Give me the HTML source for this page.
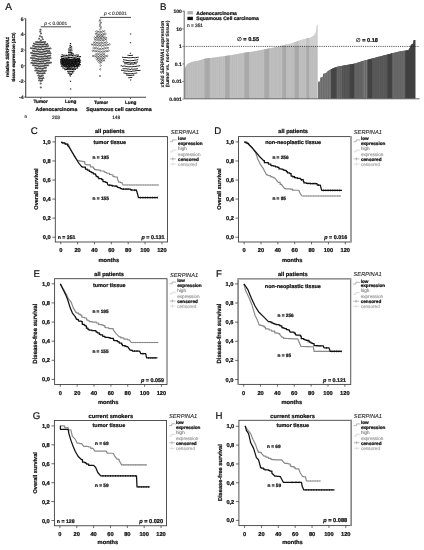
<!DOCTYPE html>
<html lang="en">
<head>
<meta charset="utf-8">
<title>SERPINA1 expression and survival</title>
<style>
html,body{margin:0;padding:0;background:#fff;}
body{width:424px;height:550px;overflow:hidden;font-family:"Liberation Sans", sans-serif;}
svg{display:block;}
svg text{font-family:"Liberation Sans", sans-serif;text-rendering:geometricPrecision;}
</style>
</head>
<body>
<svg width="424" height="550" viewBox="0 0 424 550">
<rect x="0" y="0" width="424" height="550" fill="#fff"/>
<g id="panelA">
<text x="5.30" y="10.33" font-size="10.0" fill="#111" stroke="#111" stroke-width="0.2">A</text>
<path d="M25.7,18.5V97.2H146" fill="none" stroke="#444" stroke-width="1.1"/>
<path d="M24.10,18.75H25.7" stroke="#444" stroke-width="0.8"/>
<text x="23.60" y="20.58" font-size="5.1" font-weight="bold" text-anchor="end" fill="#333" stroke="#333" stroke-width="0.24">6</text>
<path d="M24.10,34.42H25.7" stroke="#444" stroke-width="0.8"/>
<text x="23.60" y="36.25" font-size="5.1" font-weight="bold" text-anchor="end" fill="#333" stroke="#333" stroke-width="0.24">4</text>
<path d="M24.10,50.09H25.7" stroke="#444" stroke-width="0.8"/>
<text x="23.60" y="51.92" font-size="5.1" font-weight="bold" text-anchor="end" fill="#333" stroke="#333" stroke-width="0.24">2</text>
<path d="M24.10,65.76H25.7" stroke="#444" stroke-width="0.8"/>
<text x="23.60" y="67.59" font-size="5.1" font-weight="bold" text-anchor="end" fill="#333" stroke="#333" stroke-width="0.24">0</text>
<path d="M24.10,81.43H25.7" stroke="#444" stroke-width="0.8"/>
<text x="23.60" y="83.26" font-size="5.1" font-weight="bold" text-anchor="end" fill="#333" stroke="#333" stroke-width="0.24">-2</text>
<path d="M24.10,97.10H25.7" stroke="#444" stroke-width="0.8"/>
<text x="23.60" y="98.93" font-size="5.1" font-weight="bold" text-anchor="end" fill="#333" stroke="#333" stroke-width="0.24">-4</text>
<path d="M40.8,97.2v1.8" stroke="#444" stroke-width="0.8"/>
<path d="M70.5,97.2v1.8" stroke="#444" stroke-width="0.8"/>
<path d="M100.3,97.2v1.8" stroke="#444" stroke-width="0.8"/>
<path d="M130.5,97.2v1.8" stroke="#444" stroke-width="0.8"/>
<text x="7.00" y="58.65" font-size="4.6" font-weight="bold" text-anchor="middle" fill="#111" stroke="#111" stroke-width="0.24" transform="rotate(-90 7.00 57.00)">relative <tspan font-style="italic">SERPINA1</tspan></text>
<text x="13.60" y="58.58" font-size="4.4" font-weight="bold" text-anchor="middle" fill="#111" stroke="#111" stroke-width="0.24" transform="rotate(-90 13.60 57.00)">tissue expression (ΔCt)</text>
<text x="40.70" y="103.38" font-size="4.7" font-weight="bold" text-anchor="middle" fill="#111" stroke="#111" stroke-width="0.24">Tumor</text>
<text x="70.70" y="103.38" font-size="4.7" font-weight="bold" text-anchor="middle" fill="#111" stroke="#111" stroke-width="0.24">Lung</text>
<text x="101.00" y="103.58" font-size="4.7" font-weight="bold" text-anchor="middle" fill="#111" stroke="#111" stroke-width="0.24">Tumor</text>
<text x="130.70" y="103.58" font-size="4.7" font-weight="bold" text-anchor="middle" fill="#111" stroke="#111" stroke-width="0.24">Lung</text>
<text x="56.40" y="110.74" font-size="5.15" font-weight="bold" text-anchor="middle" fill="#111" stroke="#111" stroke-width="0.24">Adenocarcinoma</text>
<text x="119.00" y="111.00" font-size="5.3" font-weight="bold" text-anchor="middle" fill="#111" stroke="#111" stroke-width="0.24">Squamous cell carcinoma</text>
<text x="25.80" y="118.48" font-size="4.7" text-anchor="middle" fill="#222" stroke="#222" stroke-width="0.16">n</text>
<text x="56.00" y="118.52" font-size="4.8" text-anchor="middle" fill="#222" stroke="#222" stroke-width="0.16">203</text>
<text x="116.20" y="118.52" font-size="4.8" text-anchor="middle" fill="#222" stroke="#222" stroke-width="0.16">148</text>
<path d="M40.7,26.8H71" stroke="#333" stroke-width="0.9"/>
<text x="55.70" y="24.62" font-size="4.8" text-anchor="middle" fill="#333" stroke="#333" stroke-width="0.12"><tspan font-style="italic">p</tspan> &lt; 0.0001</text>
<path d="M99.9,17.4H131" stroke="#333" stroke-width="0.9"/>
<text x="115.40" y="15.22" font-size="4.8" text-anchor="middle" fill="#333" stroke="#333" stroke-width="0.12"><tspan font-style="italic">p</tspan> &lt; 0.0001</text>
<path d="M35.34,42.37l0.8,-1.25l0.8,1.25zM36.84,42.52l0.8,-1.25l0.8,1.25zM38.34,42.41l0.8,-1.25l0.8,1.25zM39.84,42.75l0.8,-1.25l0.8,1.25zM41.34,42.52l0.8,-1.25l0.8,1.25zM42.84,42.45l0.8,-1.25l0.8,1.25zM44.34,42.34l0.8,-1.25l0.8,1.25zM33.07,43.99l0.8,-1.25l0.8,1.25zM34.57,44.67l0.8,-1.25l0.8,1.25zM36.07,44.62l0.8,-1.25l0.8,1.25zM37.57,45.01l0.8,-1.25l0.8,1.25zM39.07,44.75l0.8,-1.25l0.8,1.25zM40.57,45.02l0.8,-1.25l0.8,1.25zM42.07,44.99l0.8,-1.25l0.8,1.25zM43.57,44.50l0.8,-1.25l0.8,1.25zM45.07,44.73l0.8,-1.25l0.8,1.25zM46.57,44.51l0.8,-1.25l0.8,1.25zM32.27,46.29l0.8,-1.25l0.8,1.25zM33.77,46.79l0.8,-1.25l0.8,1.25zM35.27,47.23l0.8,-1.25l0.8,1.25zM36.77,47.09l0.8,-1.25l0.8,1.25zM38.27,47.18l0.8,-1.25l0.8,1.25zM39.77,47.50l0.8,-1.25l0.8,1.25zM41.27,47.07l0.8,-1.25l0.8,1.25zM42.77,46.99l0.8,-1.25l0.8,1.25zM44.27,46.93l0.8,-1.25l0.8,1.25zM45.77,46.77l0.8,-1.25l0.8,1.25zM47.27,46.41l0.8,-1.25l0.8,1.25zM30.16,48.51l0.8,-1.25l0.8,1.25zM31.66,48.85l0.8,-1.25l0.8,1.25zM33.16,48.95l0.8,-1.25l0.8,1.25zM34.66,48.98l0.8,-1.25l0.8,1.25zM36.16,49.67l0.8,-1.25l0.8,1.25zM37.66,49.69l0.8,-1.25l0.8,1.25zM39.16,49.94l0.8,-1.25l0.8,1.25zM40.66,49.66l0.8,-1.25l0.8,1.25zM42.16,49.95l0.8,-1.25l0.8,1.25zM43.66,49.68l0.8,-1.25l0.8,1.25zM45.16,49.04l0.8,-1.25l0.8,1.25zM46.66,48.97l0.8,-1.25l0.8,1.25zM48.16,49.01l0.8,-1.25l0.8,1.25zM49.66,48.81l0.8,-1.25l0.8,1.25zM32.16,51.23l0.8,-1.25l0.8,1.25zM33.66,51.67l0.8,-1.25l0.8,1.25zM35.16,51.77l0.8,-1.25l0.8,1.25zM36.66,51.74l0.8,-1.25l0.8,1.25zM38.16,52.11l0.8,-1.25l0.8,1.25zM39.66,52.48l0.8,-1.25l0.8,1.25zM41.16,52.46l0.8,-1.25l0.8,1.25zM42.66,52.06l0.8,-1.25l0.8,1.25zM44.16,51.92l0.8,-1.25l0.8,1.25zM45.66,51.39l0.8,-1.25l0.8,1.25zM47.16,51.32l0.8,-1.25l0.8,1.25zM48.66,51.46l0.8,-1.25l0.8,1.25zM30.29,53.29l0.8,-1.25l0.8,1.25zM31.79,53.71l0.8,-1.25l0.8,1.25zM33.29,53.99l0.8,-1.25l0.8,1.25zM34.79,54.17l0.8,-1.25l0.8,1.25zM36.29,54.19l0.8,-1.25l0.8,1.25zM37.79,54.42l0.8,-1.25l0.8,1.25zM39.29,54.66l0.8,-1.25l0.8,1.25zM40.79,54.82l0.8,-1.25l0.8,1.25zM42.29,54.47l0.8,-1.25l0.8,1.25zM43.79,54.20l0.8,-1.25l0.8,1.25zM45.29,54.06l0.8,-1.25l0.8,1.25zM46.79,53.59l0.8,-1.25l0.8,1.25zM48.29,53.40l0.8,-1.25l0.8,1.25zM49.79,53.60l0.8,-1.25l0.8,1.25zM31.44,56.04l0.8,-1.25l0.8,1.25zM32.94,56.11l0.8,-1.25l0.8,1.25zM34.44,56.17l0.8,-1.25l0.8,1.25zM35.94,56.57l0.8,-1.25l0.8,1.25zM37.44,57.05l0.8,-1.25l0.8,1.25zM38.94,57.12l0.8,-1.25l0.8,1.25zM40.44,57.17l0.8,-1.25l0.8,1.25zM41.94,57.17l0.8,-1.25l0.8,1.25zM43.44,56.60l0.8,-1.25l0.8,1.25zM44.94,56.57l0.8,-1.25l0.8,1.25zM46.44,56.64l0.8,-1.25l0.8,1.25zM47.94,56.22l0.8,-1.25l0.8,1.25zM49.44,55.96l0.8,-1.25l0.8,1.25zM30.19,58.31l0.8,-1.25l0.8,1.25zM31.69,58.75l0.8,-1.25l0.8,1.25zM33.19,58.38l0.8,-1.25l0.8,1.25zM34.69,59.04l0.8,-1.25l0.8,1.25zM36.19,59.25l0.8,-1.25l0.8,1.25zM37.69,59.49l0.8,-1.25l0.8,1.25zM39.19,59.60l0.8,-1.25l0.8,1.25zM40.69,59.64l0.8,-1.25l0.8,1.25zM42.19,59.27l0.8,-1.25l0.8,1.25zM43.69,59.10l0.8,-1.25l0.8,1.25zM45.19,58.82l0.8,-1.25l0.8,1.25zM46.69,58.41l0.8,-1.25l0.8,1.25zM48.19,58.70l0.8,-1.25l0.8,1.25zM49.69,58.32l0.8,-1.25l0.8,1.25zM31.64,60.88l0.8,-1.25l0.8,1.25zM33.14,61.06l0.8,-1.25l0.8,1.25zM34.64,61.18l0.8,-1.25l0.8,1.25zM36.14,61.37l0.8,-1.25l0.8,1.25zM37.64,61.68l0.8,-1.25l0.8,1.25zM39.14,61.93l0.8,-1.25l0.8,1.25zM40.64,61.92l0.8,-1.25l0.8,1.25zM42.14,61.63l0.8,-1.25l0.8,1.25zM43.64,61.18l0.8,-1.25l0.8,1.25zM45.14,61.11l0.8,-1.25l0.8,1.25zM46.64,60.88l0.8,-1.25l0.8,1.25zM48.14,60.93l0.8,-1.25l0.8,1.25zM30.60,63.26l0.8,-1.25l0.8,1.25zM32.10,63.46l0.8,-1.25l0.8,1.25zM33.60,63.66l0.8,-1.25l0.8,1.25zM35.10,63.52l0.8,-1.25l0.8,1.25zM36.60,64.07l0.8,-1.25l0.8,1.25zM38.10,64.16l0.8,-1.25l0.8,1.25zM39.60,64.00l0.8,-1.25l0.8,1.25zM41.10,63.96l0.8,-1.25l0.8,1.25zM42.60,63.77l0.8,-1.25l0.8,1.25zM44.10,64.02l0.8,-1.25l0.8,1.25zM45.60,63.52l0.8,-1.25l0.8,1.25zM47.10,63.24l0.8,-1.25l0.8,1.25zM48.60,63.35l0.8,-1.25l0.8,1.25zM50.10,62.99l0.8,-1.25l0.8,1.25zM32.30,65.57l0.8,-1.25l0.8,1.25zM33.80,65.99l0.8,-1.25l0.8,1.25zM35.30,65.97l0.8,-1.25l0.8,1.25zM36.80,66.22l0.8,-1.25l0.8,1.25zM38.30,66.68l0.8,-1.25l0.8,1.25zM39.80,66.72l0.8,-1.25l0.8,1.25zM41.30,66.45l0.8,-1.25l0.8,1.25zM42.80,66.34l0.8,-1.25l0.8,1.25zM44.30,65.88l0.8,-1.25l0.8,1.25zM45.80,65.90l0.8,-1.25l0.8,1.25zM47.30,65.73l0.8,-1.25l0.8,1.25zM34.63,68.23l0.8,-1.25l0.8,1.25zM36.13,68.90l0.8,-1.25l0.8,1.25zM37.63,68.86l0.8,-1.25l0.8,1.25zM39.13,68.88l0.8,-1.25l0.8,1.25zM40.63,69.12l0.8,-1.25l0.8,1.25zM42.13,69.05l0.8,-1.25l0.8,1.25zM43.63,68.37l0.8,-1.25l0.8,1.25zM45.13,68.18l0.8,-1.25l0.8,1.25zM34.60,71.00l0.8,-1.25l0.8,1.25zM36.10,70.86l0.8,-1.25l0.8,1.25zM37.60,71.38l0.8,-1.25l0.8,1.25zM39.10,71.56l0.8,-1.25l0.8,1.25zM40.60,71.48l0.8,-1.25l0.8,1.25zM42.10,71.09l0.8,-1.25l0.8,1.25zM43.60,71.35l0.8,-1.25l0.8,1.25zM45.10,71.05l0.8,-1.25l0.8,1.25zM36.36,73.30l0.8,-1.25l0.8,1.25zM37.86,73.75l0.8,-1.25l0.8,1.25zM39.36,73.79l0.8,-1.25l0.8,1.25zM40.86,73.90l0.8,-1.25l0.8,1.25zM42.36,73.55l0.8,-1.25l0.8,1.25zM43.86,73.54l0.8,-1.25l0.8,1.25zM37.54,75.94l0.8,-1.25l0.8,1.25zM39.04,76.53l0.8,-1.25l0.8,1.25zM40.54,76.48l0.8,-1.25l0.8,1.25zM42.04,75.94l0.8,-1.25l0.8,1.25zM38.10,78.34l0.8,-1.25l0.8,1.25zM39.60,78.92l0.8,-1.25l0.8,1.25zM41.10,78.80l0.8,-1.25l0.8,1.25zM42.60,78.41l0.8,-1.25l0.8,1.25zM38.43,80.66l0.8,-1.25l0.8,1.25zM39.93,81.38l0.8,-1.25l0.8,1.25zM41.43,80.68l0.8,-1.25l0.8,1.25zM39.70,30.05l0.8,-1.25l0.8,1.25zM39.50,32.05l0.8,-1.25l0.8,1.25zM40.10,33.95l0.8,-1.25l0.8,1.25zM39.20,36.55l0.8,-1.25l0.8,1.25zM41.10,37.35l0.8,-1.25l0.8,1.25zM38.30,39.15l0.8,-1.25l0.8,1.25zM41.90,39.55l0.8,-1.25l0.8,1.25zM40.00,40.95l0.8,-1.25l0.8,1.25zM39.90,83.95l0.8,-1.25l0.8,1.25zM40.00,87.85l0.8,-1.25l0.8,1.25z" fill="none" stroke="#000" stroke-width="0.56" stroke-linejoin="miter"/>
<path d="M69.43,46.80h1.32v1.12h-1.32zM70.88,46.35h1.32v1.12h-1.32zM68.10,48.48h1.32v1.12h-1.32zM69.55,48.56h1.32v1.12h-1.32zM71.00,48.39h1.32v1.12h-1.32zM68.26,50.16h1.32v1.12h-1.32zM69.71,50.29h1.32v1.12h-1.32zM71.16,50.15h1.32v1.12h-1.32zM68.15,51.87h1.32v1.12h-1.32zM69.60,51.99h1.32v1.12h-1.32zM71.05,52.02h1.32v1.12h-1.32zM68.01,53.67h1.32v1.12h-1.32zM69.46,53.60h1.32v1.12h-1.32zM70.91,53.55h1.32v1.12h-1.32zM72.36,53.33h1.32v1.12h-1.32zM61.54,54.29h1.32v1.12h-1.32zM62.99,54.64h1.32v1.12h-1.32zM64.44,54.69h1.32v1.12h-1.32zM65.89,54.85h1.32v1.12h-1.32zM67.34,55.24h1.32v1.12h-1.32zM68.79,55.19h1.32v1.12h-1.32zM70.24,55.21h1.32v1.12h-1.32zM71.69,54.91h1.32v1.12h-1.32zM73.14,54.68h1.32v1.12h-1.32zM74.59,54.70h1.32v1.12h-1.32zM76.04,54.47h1.32v1.12h-1.32zM77.49,54.53h1.32v1.12h-1.32zM60.76,56.08h1.32v1.12h-1.32zM62.21,55.96h1.32v1.12h-1.32zM63.66,56.45h1.32v1.12h-1.32zM65.11,56.53h1.32v1.12h-1.32zM66.56,56.63h1.32v1.12h-1.32zM68.01,56.85h1.32v1.12h-1.32zM69.46,56.91h1.32v1.12h-1.32zM70.91,56.92h1.32v1.12h-1.32zM72.36,56.57h1.32v1.12h-1.32zM73.81,56.75h1.32v1.12h-1.32zM75.26,56.61h1.32v1.12h-1.32zM76.71,56.08h1.32v1.12h-1.32zM78.16,56.25h1.32v1.12h-1.32zM79.61,56.10h1.32v1.12h-1.32zM61.11,57.67h1.32v1.12h-1.32zM62.56,57.78h1.32v1.12h-1.32zM64.01,58.13h1.32v1.12h-1.32zM65.46,58.05h1.32v1.12h-1.32zM66.91,58.34h1.32v1.12h-1.32zM68.36,58.24h1.32v1.12h-1.32zM69.81,58.63h1.32v1.12h-1.32zM71.26,58.51h1.32v1.12h-1.32zM72.71,58.16h1.32v1.12h-1.32zM74.16,58.08h1.32v1.12h-1.32zM75.61,58.13h1.32v1.12h-1.32zM77.06,57.90h1.32v1.12h-1.32zM78.51,57.65h1.32v1.12h-1.32zM60.22,59.10h1.32v1.12h-1.32zM61.67,59.42h1.32v1.12h-1.32zM63.12,59.29h1.32v1.12h-1.32zM64.57,59.79h1.32v1.12h-1.32zM66.02,59.60h1.32v1.12h-1.32zM67.47,60.05h1.32v1.12h-1.32zM68.92,59.88h1.32v1.12h-1.32zM70.37,60.20h1.32v1.12h-1.32zM71.82,59.95h1.32v1.12h-1.32zM73.27,59.72h1.32v1.12h-1.32zM74.72,59.59h1.32v1.12h-1.32zM76.17,59.53h1.32v1.12h-1.32zM77.62,59.37h1.32v1.12h-1.32zM79.07,59.10h1.32v1.12h-1.32zM60.21,60.80h1.32v1.12h-1.32zM61.66,61.14h1.32v1.12h-1.32zM63.11,61.11h1.32v1.12h-1.32zM64.56,60.97h1.32v1.12h-1.32zM66.01,61.47h1.32v1.12h-1.32zM67.46,61.56h1.32v1.12h-1.32zM68.91,61.78h1.32v1.12h-1.32zM70.36,61.42h1.32v1.12h-1.32zM71.81,61.57h1.32v1.12h-1.32zM73.26,61.09h1.32v1.12h-1.32zM74.71,61.26h1.32v1.12h-1.32zM76.16,60.94h1.32v1.12h-1.32zM77.61,60.79h1.32v1.12h-1.32zM79.06,60.98h1.32v1.12h-1.32zM60.14,62.40h1.32v1.12h-1.32zM61.59,62.70h1.32v1.12h-1.32zM63.04,62.53h1.32v1.12h-1.32zM64.49,62.64h1.32v1.12h-1.32zM65.94,63.10h1.32v1.12h-1.32zM67.39,63.01h1.32v1.12h-1.32zM68.84,63.28h1.32v1.12h-1.32zM70.29,62.94h1.32v1.12h-1.32zM71.74,62.98h1.32v1.12h-1.32zM73.19,62.75h1.32v1.12h-1.32zM74.64,62.87h1.32v1.12h-1.32zM76.09,62.44h1.32v1.12h-1.32zM77.54,62.75h1.32v1.12h-1.32zM78.99,62.15h1.32v1.12h-1.32zM60.58,63.75h1.32v1.12h-1.32zM62.03,64.00h1.32v1.12h-1.32zM63.48,64.41h1.32v1.12h-1.32zM64.93,64.21h1.32v1.12h-1.32zM66.38,64.36h1.32v1.12h-1.32zM67.83,64.74h1.32v1.12h-1.32zM69.28,64.72h1.32v1.12h-1.32zM70.73,64.55h1.32v1.12h-1.32zM72.18,64.89h1.32v1.12h-1.32zM73.63,64.34h1.32v1.12h-1.32zM75.08,64.15h1.32v1.12h-1.32zM76.53,64.17h1.32v1.12h-1.32zM77.98,64.18h1.32v1.12h-1.32zM79.43,64.11h1.32v1.12h-1.32zM60.87,65.58h1.32v1.12h-1.32zM62.32,65.55h1.32v1.12h-1.32zM63.77,65.89h1.32v1.12h-1.32zM65.22,66.18h1.32v1.12h-1.32zM66.67,66.30h1.32v1.12h-1.32zM68.12,66.51h1.32v1.12h-1.32zM69.57,66.57h1.32v1.12h-1.32zM71.02,66.49h1.32v1.12h-1.32zM72.47,66.28h1.32v1.12h-1.32zM73.92,66.03h1.32v1.12h-1.32zM75.37,65.78h1.32v1.12h-1.32zM76.82,65.87h1.32v1.12h-1.32zM78.27,65.57h1.32v1.12h-1.32zM62.31,67.36h1.32v1.12h-1.32zM63.76,67.71h1.32v1.12h-1.32zM65.21,67.46h1.32v1.12h-1.32zM66.66,67.82h1.32v1.12h-1.32zM68.11,67.86h1.32v1.12h-1.32zM69.56,68.05h1.32v1.12h-1.32zM71.01,67.73h1.32v1.12h-1.32zM72.46,68.01h1.32v1.12h-1.32zM73.91,67.53h1.32v1.12h-1.32zM75.36,67.57h1.32v1.12h-1.32zM76.81,67.35h1.32v1.12h-1.32zM64.43,69.01h1.32v1.12h-1.32zM65.88,68.93h1.32v1.12h-1.32zM67.33,69.02h1.32v1.12h-1.32zM68.78,69.14h1.32v1.12h-1.32zM70.23,69.21h1.32v1.12h-1.32zM71.68,69.04h1.32v1.12h-1.32zM73.13,69.18h1.32v1.12h-1.32zM74.58,68.99h1.32v1.12h-1.32zM67.28,71.00h1.32v1.12h-1.32zM68.73,71.16h1.32v1.12h-1.32zM70.18,70.91h1.32v1.12h-1.32zM71.63,70.88h1.32v1.12h-1.32zM73.08,70.65h1.32v1.12h-1.32zM67.73,72.51h1.32v1.12h-1.32zM69.18,72.72h1.32v1.12h-1.32zM70.63,72.68h1.32v1.12h-1.32zM72.08,72.32h1.32v1.12h-1.32zM69.06,74.19h1.32v1.12h-1.32zM70.51,73.93h1.32v1.12h-1.32zM69.84,43.04h1.32v1.12h-1.32zM69.54,45.04h1.32v1.12h-1.32zM69.84,80.64h1.32v1.12h-1.32zM69.94,88.44h1.32v1.12h-1.32zM69.74,75.44h1.32v1.12h-1.32zM61.46,58.28h1.32v1.12h-1.32zM62.91,58.35h1.32v1.12h-1.32zM64.36,58.97h1.32v1.12h-1.32zM65.81,58.69h1.32v1.12h-1.32zM67.26,58.79h1.32v1.12h-1.32zM68.71,59.19h1.32v1.12h-1.32zM70.16,59.16h1.32v1.12h-1.32zM71.61,59.30h1.32v1.12h-1.32zM73.06,58.84h1.32v1.12h-1.32zM74.51,59.08h1.32v1.12h-1.32zM75.96,58.63h1.32v1.12h-1.32zM77.41,58.64h1.32v1.12h-1.32zM78.86,58.67h1.32v1.12h-1.32zM60.54,60.20h1.32v1.12h-1.32zM61.99,60.23h1.32v1.12h-1.32zM63.44,60.03h1.32v1.12h-1.32zM64.89,60.57h1.32v1.12h-1.32zM66.34,60.56h1.32v1.12h-1.32zM67.79,60.55h1.32v1.12h-1.32zM69.24,60.62h1.32v1.12h-1.32zM70.69,60.95h1.32v1.12h-1.32zM72.14,60.69h1.32v1.12h-1.32zM73.59,60.73h1.32v1.12h-1.32zM75.04,60.52h1.32v1.12h-1.32zM76.49,60.48h1.32v1.12h-1.32zM77.94,60.16h1.32v1.12h-1.32zM79.39,60.09h1.32v1.12h-1.32zM60.49,61.47h1.32v1.12h-1.32zM61.94,61.95h1.32v1.12h-1.32zM63.39,61.76h1.32v1.12h-1.32zM64.84,62.12h1.32v1.12h-1.32zM66.29,62.34h1.32v1.12h-1.32zM67.74,62.32h1.32v1.12h-1.32zM69.19,62.20h1.32v1.12h-1.32zM70.64,62.54h1.32v1.12h-1.32zM72.09,62.33h1.32v1.12h-1.32zM73.54,61.96h1.32v1.12h-1.32zM74.99,61.76h1.32v1.12h-1.32zM76.44,61.87h1.32v1.12h-1.32zM77.89,61.49h1.32v1.12h-1.32zM79.34,61.80h1.32v1.12h-1.32zM61.14,63.27h1.32v1.12h-1.32zM62.59,63.34h1.32v1.12h-1.32zM64.04,63.60h1.32v1.12h-1.32zM65.49,63.86h1.32v1.12h-1.32zM66.94,63.68h1.32v1.12h-1.32zM68.39,63.85h1.32v1.12h-1.32zM69.84,64.08h1.32v1.12h-1.32zM71.29,63.81h1.32v1.12h-1.32zM72.74,63.83h1.32v1.12h-1.32zM74.19,63.67h1.32v1.12h-1.32zM75.64,63.48h1.32v1.12h-1.32zM77.09,63.47h1.32v1.12h-1.32zM78.54,63.27h1.32v1.12h-1.32zM61.58,65.17h1.32v1.12h-1.32zM63.03,64.98h1.32v1.12h-1.32zM64.48,65.15h1.32v1.12h-1.32zM65.93,65.27h1.32v1.12h-1.32zM67.38,65.66h1.32v1.12h-1.32zM68.83,65.80h1.32v1.12h-1.32zM70.28,65.58h1.32v1.12h-1.32zM71.73,65.39h1.32v1.12h-1.32zM73.18,65.11h1.32v1.12h-1.32zM74.63,65.38h1.32v1.12h-1.32zM76.08,64.89h1.32v1.12h-1.32zM77.53,64.95h1.32v1.12h-1.32z" fill="#0c0c0c"/>
<path d="M95.47,31.50l0.85,-0.8l0.85,0.8l-0.85,0.8zM97.07,31.64l0.85,-0.8l0.85,0.8l-0.85,0.8zM98.67,31.94l0.85,-0.8l0.85,0.8l-0.85,0.8zM100.27,31.95l0.85,-0.8l0.85,0.8l-0.85,0.8zM101.87,31.51l0.85,-0.8l0.85,0.8l-0.85,0.8zM103.47,31.29l0.85,-0.8l0.85,0.8l-0.85,0.8zM95.09,33.78l0.85,-0.8l0.85,0.8l-0.85,0.8zM96.69,33.98l0.85,-0.8l0.85,0.8l-0.85,0.8zM98.29,34.49l0.85,-0.8l0.85,0.8l-0.85,0.8zM99.89,34.49l0.85,-0.8l0.85,0.8l-0.85,0.8zM101.49,34.43l0.85,-0.8l0.85,0.8l-0.85,0.8zM103.09,34.07l0.85,-0.8l0.85,0.8l-0.85,0.8zM104.69,33.93l0.85,-0.8l0.85,0.8l-0.85,0.8zM96.21,36.04l0.85,-0.8l0.85,0.8l-0.85,0.8zM97.81,36.34l0.85,-0.8l0.85,0.8l-0.85,0.8zM99.41,36.41l0.85,-0.8l0.85,0.8l-0.85,0.8zM101.01,36.29l0.85,-0.8l0.85,0.8l-0.85,0.8zM102.61,36.05l0.85,-0.8l0.85,0.8l-0.85,0.8zM93.74,37.58l0.85,-0.8l0.85,0.8l-0.85,0.8zM95.34,37.72l0.85,-0.8l0.85,0.8l-0.85,0.8zM96.94,37.81l0.85,-0.8l0.85,0.8l-0.85,0.8zM98.54,37.91l0.85,-0.8l0.85,0.8l-0.85,0.8zM100.14,38.24l0.85,-0.8l0.85,0.8l-0.85,0.8zM101.74,37.88l0.85,-0.8l0.85,0.8l-0.85,0.8zM103.34,37.77l0.85,-0.8l0.85,0.8l-0.85,0.8zM104.94,37.62l0.85,-0.8l0.85,0.8l-0.85,0.8zM94.20,39.74l0.85,-0.8l0.85,0.8l-0.85,0.8zM95.80,39.74l0.85,-0.8l0.85,0.8l-0.85,0.8zM97.40,40.11l0.85,-0.8l0.85,0.8l-0.85,0.8zM99.00,40.17l0.85,-0.8l0.85,0.8l-0.85,0.8zM100.60,40.37l0.85,-0.8l0.85,0.8l-0.85,0.8zM102.20,40.14l0.85,-0.8l0.85,0.8l-0.85,0.8zM103.80,39.62l0.85,-0.8l0.85,0.8l-0.85,0.8zM105.40,39.43l0.85,-0.8l0.85,0.8l-0.85,0.8zM93.05,42.55l0.85,-0.8l0.85,0.8l-0.85,0.8zM94.65,42.55l0.85,-0.8l0.85,0.8l-0.85,0.8zM96.25,42.83l0.85,-0.8l0.85,0.8l-0.85,0.8zM97.85,42.91l0.85,-0.8l0.85,0.8l-0.85,0.8zM99.45,43.20l0.85,-0.8l0.85,0.8l-0.85,0.8zM101.05,42.95l0.85,-0.8l0.85,0.8l-0.85,0.8zM102.65,42.72l0.85,-0.8l0.85,0.8l-0.85,0.8zM104.25,42.61l0.85,-0.8l0.85,0.8l-0.85,0.8zM105.85,42.40l0.85,-0.8l0.85,0.8l-0.85,0.8zM91.13,44.53l0.85,-0.8l0.85,0.8l-0.85,0.8zM92.73,44.84l0.85,-0.8l0.85,0.8l-0.85,0.8zM94.33,45.01l0.85,-0.8l0.85,0.8l-0.85,0.8zM95.93,45.28l0.85,-0.8l0.85,0.8l-0.85,0.8zM97.53,45.36l0.85,-0.8l0.85,0.8l-0.85,0.8zM99.13,45.36l0.85,-0.8l0.85,0.8l-0.85,0.8zM100.73,45.64l0.85,-0.8l0.85,0.8l-0.85,0.8zM102.33,45.47l0.85,-0.8l0.85,0.8l-0.85,0.8zM103.93,45.24l0.85,-0.8l0.85,0.8l-0.85,0.8zM105.53,44.90l0.85,-0.8l0.85,0.8l-0.85,0.8zM107.13,44.75l0.85,-0.8l0.85,0.8l-0.85,0.8zM108.73,44.34l0.85,-0.8l0.85,0.8l-0.85,0.8zM92.68,47.99l0.85,-0.8l0.85,0.8l-0.85,0.8zM94.28,48.09l0.85,-0.8l0.85,0.8l-0.85,0.8zM95.88,48.21l0.85,-0.8l0.85,0.8l-0.85,0.8zM97.48,48.73l0.85,-0.8l0.85,0.8l-0.85,0.8zM99.08,48.99l0.85,-0.8l0.85,0.8l-0.85,0.8zM100.68,48.63l0.85,-0.8l0.85,0.8l-0.85,0.8zM102.28,48.71l0.85,-0.8l0.85,0.8l-0.85,0.8zM103.88,48.34l0.85,-0.8l0.85,0.8l-0.85,0.8zM105.48,48.03l0.85,-0.8l0.85,0.8l-0.85,0.8zM107.08,47.88l0.85,-0.8l0.85,0.8l-0.85,0.8zM91.84,50.91l0.85,-0.8l0.85,0.8l-0.85,0.8zM93.44,50.79l0.85,-0.8l0.85,0.8l-0.85,0.8zM95.04,51.22l0.85,-0.8l0.85,0.8l-0.85,0.8zM96.64,51.20l0.85,-0.8l0.85,0.8l-0.85,0.8zM98.24,51.68l0.85,-0.8l0.85,0.8l-0.85,0.8zM99.84,51.73l0.85,-0.8l0.85,0.8l-0.85,0.8zM101.44,51.74l0.85,-0.8l0.85,0.8l-0.85,0.8zM103.04,51.58l0.85,-0.8l0.85,0.8l-0.85,0.8zM104.64,51.18l0.85,-0.8l0.85,0.8l-0.85,0.8zM106.24,51.17l0.85,-0.8l0.85,0.8l-0.85,0.8zM107.84,50.68l0.85,-0.8l0.85,0.8l-0.85,0.8zM95.35,54.22l0.85,-0.8l0.85,0.8l-0.85,0.8zM96.95,54.20l0.85,-0.8l0.85,0.8l-0.85,0.8zM98.55,54.47l0.85,-0.8l0.85,0.8l-0.85,0.8zM100.15,54.56l0.85,-0.8l0.85,0.8l-0.85,0.8zM101.75,54.43l0.85,-0.8l0.85,0.8l-0.85,0.8zM103.35,54.04l0.85,-0.8l0.85,0.8l-0.85,0.8zM92.13,56.01l0.85,-0.8l0.85,0.8l-0.85,0.8zM93.73,56.00l0.85,-0.8l0.85,0.8l-0.85,0.8zM95.33,56.46l0.85,-0.8l0.85,0.8l-0.85,0.8zM96.93,56.65l0.85,-0.8l0.85,0.8l-0.85,0.8zM98.53,56.65l0.85,-0.8l0.85,0.8l-0.85,0.8zM100.13,56.68l0.85,-0.8l0.85,0.8l-0.85,0.8zM101.73,56.50l0.85,-0.8l0.85,0.8l-0.85,0.8zM103.33,56.34l0.85,-0.8l0.85,0.8l-0.85,0.8zM104.93,56.11l0.85,-0.8l0.85,0.8l-0.85,0.8zM106.53,55.89l0.85,-0.8l0.85,0.8l-0.85,0.8zM95.73,58.56l0.85,-0.8l0.85,0.8l-0.85,0.8zM97.33,58.59l0.85,-0.8l0.85,0.8l-0.85,0.8zM98.93,58.77l0.85,-0.8l0.85,0.8l-0.85,0.8zM100.53,58.88l0.85,-0.8l0.85,0.8l-0.85,0.8zM102.13,58.48l0.85,-0.8l0.85,0.8l-0.85,0.8zM103.73,58.30l0.85,-0.8l0.85,0.8l-0.85,0.8zM96.78,60.49l0.85,-0.8l0.85,0.8l-0.85,0.8zM98.38,60.71l0.85,-0.8l0.85,0.8l-0.85,0.8zM99.98,60.70l0.85,-0.8l0.85,0.8l-0.85,0.8zM101.58,60.66l0.85,-0.8l0.85,0.8l-0.85,0.8zM103.18,60.52l0.85,-0.8l0.85,0.8l-0.85,0.8zM98.51,62.54l0.85,-0.8l0.85,0.8l-0.85,0.8zM100.11,62.55l0.85,-0.8l0.85,0.8l-0.85,0.8zM99.55,19.80l0.85,-0.8l0.85,0.8l-0.85,0.8zM98.75,21.20l0.85,-0.8l0.85,0.8l-0.85,0.8zM100.15,22.60l0.85,-0.8l0.85,0.8l-0.85,0.8zM99.35,24.20l0.85,-0.8l0.85,0.8l-0.85,0.8zM98.95,26.00l0.85,-0.8l0.85,0.8l-0.85,0.8zM100.35,27.40l0.85,-0.8l0.85,0.8l-0.85,0.8zM99.45,29.20l0.85,-0.8l0.85,0.8l-0.85,0.8zM99.75,65.60l0.85,-0.8l0.85,0.8l-0.85,0.8zM99.45,69.30l0.85,-0.8l0.85,0.8l-0.85,0.8zM99.15,76.00l0.85,-0.8l0.85,0.8l-0.85,0.8z" fill="none" stroke="#1a1a1a" stroke-width="0.52"/>
<path d="M127.46,54.81h1.32v1.0h-1.32zM128.86,55.08h1.32v1.0h-1.32zM130.26,54.98h1.32v1.0h-1.32zM131.66,54.80h1.32v1.0h-1.32zM121.97,56.82h1.32v1.0h-1.32zM123.37,56.93h1.32v1.0h-1.32zM124.77,57.07h1.32v1.0h-1.32zM126.17,57.00h1.32v1.0h-1.32zM127.57,57.28h1.32v1.0h-1.32zM128.97,57.33h1.32v1.0h-1.32zM130.37,57.29h1.32v1.0h-1.32zM131.77,57.11h1.32v1.0h-1.32zM133.17,57.00h1.32v1.0h-1.32zM134.57,57.13h1.32v1.0h-1.32zM135.97,56.94h1.32v1.0h-1.32zM137.37,56.78h1.32v1.0h-1.32zM122.95,59.31h1.32v1.0h-1.32zM124.35,59.51h1.32v1.0h-1.32zM125.75,59.79h1.32v1.0h-1.32zM127.15,59.98h1.32v1.0h-1.32zM128.55,60.19h1.32v1.0h-1.32zM129.95,60.35h1.32v1.0h-1.32zM131.35,59.88h1.32v1.0h-1.32zM132.75,59.93h1.32v1.0h-1.32zM134.15,59.81h1.32v1.0h-1.32zM135.55,59.59h1.32v1.0h-1.32zM136.95,59.30h1.32v1.0h-1.32zM122.72,61.37h1.32v1.0h-1.32zM124.12,61.86h1.32v1.0h-1.32zM125.52,61.98h1.32v1.0h-1.32zM126.92,62.01h1.32v1.0h-1.32zM128.32,62.07h1.32v1.0h-1.32zM129.72,62.46h1.32v1.0h-1.32zM131.12,62.17h1.32v1.0h-1.32zM132.52,62.14h1.32v1.0h-1.32zM133.92,61.98h1.32v1.0h-1.32zM135.32,61.69h1.32v1.0h-1.32zM136.72,61.50h1.32v1.0h-1.32zM124.21,63.26h1.32v1.0h-1.32zM125.61,63.30h1.32v1.0h-1.32zM127.01,63.51h1.32v1.0h-1.32zM128.41,63.87h1.32v1.0h-1.32zM129.81,63.72h1.32v1.0h-1.32zM131.21,63.56h1.32v1.0h-1.32zM132.61,63.64h1.32v1.0h-1.32zM134.01,63.35h1.32v1.0h-1.32zM135.41,63.30h1.32v1.0h-1.32zM120.62,65.34h1.32v1.0h-1.32zM122.02,65.75h1.32v1.0h-1.32zM123.42,65.59h1.32v1.0h-1.32zM124.82,65.83h1.32v1.0h-1.32zM126.22,65.90h1.32v1.0h-1.32zM127.62,66.22h1.32v1.0h-1.32zM129.02,66.23h1.32v1.0h-1.32zM130.42,66.27h1.32v1.0h-1.32zM131.82,66.27h1.32v1.0h-1.32zM133.22,65.94h1.32v1.0h-1.32zM134.62,65.88h1.32v1.0h-1.32zM136.02,65.87h1.32v1.0h-1.32zM137.42,65.39h1.32v1.0h-1.32zM138.82,65.22h1.32v1.0h-1.32zM122.55,68.24h1.32v1.0h-1.32zM123.95,68.33h1.32v1.0h-1.32zM125.35,68.33h1.32v1.0h-1.32zM126.75,68.52h1.32v1.0h-1.32zM128.15,68.62h1.32v1.0h-1.32zM129.55,68.88h1.32v1.0h-1.32zM130.95,68.56h1.32v1.0h-1.32zM132.35,68.67h1.32v1.0h-1.32zM133.75,68.60h1.32v1.0h-1.32zM135.15,68.47h1.32v1.0h-1.32zM136.55,68.22h1.32v1.0h-1.32zM120.96,69.71h1.32v1.0h-1.32zM122.36,69.97h1.32v1.0h-1.32zM123.76,70.39h1.32v1.0h-1.32zM125.16,70.47h1.32v1.0h-1.32zM126.56,70.48h1.32v1.0h-1.32zM127.96,70.85h1.32v1.0h-1.32zM129.36,70.87h1.32v1.0h-1.32zM130.76,70.95h1.32v1.0h-1.32zM132.16,70.59h1.32v1.0h-1.32zM133.56,70.39h1.32v1.0h-1.32zM134.96,70.34h1.32v1.0h-1.32zM136.36,70.06h1.32v1.0h-1.32zM137.76,70.01h1.32v1.0h-1.32zM139.16,70.08h1.32v1.0h-1.32zM123.32,72.51h1.32v1.0h-1.32zM124.72,72.68h1.32v1.0h-1.32zM126.12,72.88h1.32v1.0h-1.32zM127.52,73.28h1.32v1.0h-1.32zM128.92,73.27h1.32v1.0h-1.32zM130.32,73.24h1.32v1.0h-1.32zM131.72,73.01h1.32v1.0h-1.32zM133.12,73.21h1.32v1.0h-1.32zM134.52,72.83h1.32v1.0h-1.32zM135.92,72.59h1.32v1.0h-1.32zM125.93,74.54h1.32v1.0h-1.32zM127.33,74.74h1.32v1.0h-1.32zM128.73,75.09h1.32v1.0h-1.32zM130.13,74.88h1.32v1.0h-1.32zM131.53,74.69h1.32v1.0h-1.32zM132.93,74.71h1.32v1.0h-1.32zM128.16,77.15h1.32v1.0h-1.32zM129.56,76.95h1.32v1.0h-1.32zM130.96,76.96h1.32v1.0h-1.32zM129.96,79.60h1.32v1.0h-1.32zM129.74,52.80h1.32v1.0h-1.32zM129.94,33.50h1.32v1.0h-1.32zM129.84,42.30h1.32v1.0h-1.32z" fill="#222"/>
</g>
<g id="panelB">
<text x="160.00" y="9.92" font-size="9.7" fill="#111" stroke="#111" stroke-width="0.2">B</text>
<path d="M184.6,98.8L184.6,71.0L185.2,67.5L186.6,64.9L188.5,63.2L192.3,61.7L198.9,60.6L202.0,59.6L204.5,58.7L210.0,57.9L217.7,57.0L229.0,55.5L242.3,53.0L250.0,51.9L260.0,50.3L270.0,48.3L278.5,46.4L282.0,45.5L290.4,43.7L297.0,41.6L300.8,39.9L304.5,39.0L310.2,37.8L313.0,36.2L314.9,34.2L316.2,31.0L316.9,25.0L317.7,25.0L317.7,98.8Z" fill="#c1c1c1"/>
<path d="M184.6,98.8L184.6,71.0L185.1,68.1L185.6,66.8L185.6,98.8Z" fill="#b4b4b4" fill-opacity="0.45"/>
<path d="M186.6,98.8L186.6,64.9L187.2,64.4L187.8,63.8L187.8,98.8Z" fill="#b4b4b4" fill-opacity="0.45"/>
<path d="M189.0,98.8L189.0,63.0L189.5,62.8L190.0,62.6L190.0,98.8Z" fill="#b4b4b4" fill-opacity="0.45"/>
<path d="M191.0,98.8L191.0,62.2L191.5,62.0L192.0,61.8L192.0,98.8Z" fill="#b4b4b4" fill-opacity="0.45"/>
<path d="M193.0,98.8L193.0,61.6L193.6,61.5L194.2,61.4L194.2,98.8Z" fill="#b4b4b4" fill-opacity="0.45"/>
<path d="M195.4,98.8L195.4,61.2L196.0,61.1L196.6,61.0L196.6,98.8Z" fill="#b4b4b4" fill-opacity="0.45"/>
<path d="M197.8,98.8L197.8,60.8L198.2,60.7L198.6,60.6L198.6,98.8Z" fill="#b4b4b4" fill-opacity="0.45"/>
<path d="M199.4,98.8L199.4,60.4L199.8,60.3L200.2,60.2L200.2,98.8Z" fill="#b4b4b4" fill-opacity="0.45"/>
<path d="M201.0,98.8L201.0,59.9L201.6,59.7L202.2,59.5L202.2,98.8Z" fill="#b4b4b4" fill-opacity="0.45"/>
<path d="M203.4,98.8L203.4,59.1L203.9,58.9L204.4,58.7L204.4,98.8Z" fill="#b4b4b4" fill-opacity="0.45"/>
<path d="M205.4,98.8L205.4,58.6L206.0,58.5L206.6,58.4L206.6,98.8Z" fill="#b4b4b4" fill-opacity="0.45"/>
<path d="M207.8,98.8L207.8,58.2L208.4,58.1L209.0,58.0L209.0,98.8Z" fill="#b4b4b4" fill-opacity="0.45"/>
<path d="M210.2,98.8L210.2,57.9L210.6,57.8L211.0,57.8L211.0,98.8Z" fill="#b4b4b4" fill-opacity="0.45"/>
<path d="M211.8,98.8L211.8,57.7L212.2,57.6L212.6,57.6L212.6,98.8Z" fill="#b4b4b4" fill-opacity="0.45"/>
<path d="M213.4,98.8L213.4,57.5L213.9,57.4L214.4,57.4L214.4,98.8Z" fill="#b4b4b4" fill-opacity="0.45"/>
<path d="M215.4,98.8L215.4,57.3L215.9,57.2L216.4,57.2L216.4,98.8Z" fill="#b4b4b4" fill-opacity="0.45"/>
<path d="M217.4,98.8L217.4,57.0L217.8,57.0L218.2,56.9L218.2,98.8Z" fill="#b4b4b4" fill-opacity="0.45"/>
<path d="M219.0,98.8L219.0,56.8L219.4,56.8L219.8,56.7L219.8,98.8Z" fill="#b4b4b4" fill-opacity="0.45"/>
<path d="M220.6,98.8L220.6,56.6L221.2,56.5L221.8,56.5L221.8,98.8Z" fill="#b4b4b4" fill-opacity="0.45"/>
<path d="M223.0,98.8L223.0,56.3L223.6,56.2L224.2,56.1L224.2,98.8Z" fill="#b4b4b4" fill-opacity="0.45"/>
<path d="M225.4,98.8L225.4,56.0L226.0,55.9L226.6,55.8L226.6,98.8Z" fill="#b4b4b4" fill-opacity="0.45"/>
<path d="M227.8,98.8L227.8,55.7L228.2,55.6L228.6,55.6L228.6,98.8Z" fill="#b4b4b4" fill-opacity="0.45"/>
<path d="M229.4,98.8L229.4,55.4L230.0,55.3L230.6,55.2L230.6,98.8Z" fill="#b4b4b4" fill-opacity="0.45"/>
<path d="M231.8,98.8L231.8,55.0L232.3,54.9L232.8,54.8L232.8,98.8Z" fill="#b4b4b4" fill-opacity="0.45"/>
<path d="M233.8,98.8L233.8,54.6L234.3,54.5L234.8,54.4L234.8,98.8Z" fill="#b4b4b4" fill-opacity="0.45"/>
<path d="M235.8,98.8L235.8,54.2L236.4,54.1L237.0,54.0L237.0,98.8Z" fill="#b4b4b4" fill-opacity="0.45"/>
<path d="M238.2,98.8L238.2,53.8L238.8,53.7L239.4,53.5L239.4,98.8Z" fill="#b4b4b4" fill-opacity="0.45"/>
<path d="M240.6,98.8L240.6,53.3L241.2,53.2L241.8,53.1L241.8,98.8Z" fill="#b4b4b4" fill-opacity="0.45"/>
<path d="M243.0,98.8L243.0,52.9L243.6,52.8L244.2,52.7L244.2,98.8Z" fill="#b4b4b4" fill-opacity="0.45"/>
<path d="M245.4,98.8L245.4,52.6L245.8,52.5L246.2,52.4L246.2,98.8Z" fill="#b4b4b4" fill-opacity="0.45"/>
<path d="M247.0,98.8L247.0,52.3L247.6,52.2L248.2,52.2L248.2,98.8Z" fill="#b4b4b4" fill-opacity="0.45"/>
<path d="M249.4,98.8L249.4,52.0L249.8,51.9L250.2,51.9L250.2,98.8Z" fill="#b4b4b4" fill-opacity="0.45"/>
<path d="M251.0,98.8L251.0,51.7L251.6,51.6L252.2,51.5L252.2,98.8Z" fill="#b4b4b4" fill-opacity="0.45"/>
<path d="M253.4,98.8L253.4,51.4L253.8,51.3L254.2,51.2L254.2,98.8Z" fill="#b4b4b4" fill-opacity="0.45"/>
<path d="M255.0,98.8L255.0,51.1L255.4,51.0L255.8,51.0L255.8,98.8Z" fill="#b4b4b4" fill-opacity="0.45"/>
<path d="M256.6,98.8L256.6,50.8L257.0,50.8L257.4,50.7L257.4,98.8Z" fill="#b4b4b4" fill-opacity="0.45"/>
<path d="M258.2,98.8L258.2,50.6L258.6,50.5L259.0,50.5L259.0,98.8Z" fill="#b4b4b4" fill-opacity="0.45"/>
<path d="M259.8,98.8L259.8,50.3L260.2,50.3L260.6,50.2L260.6,98.8Z" fill="#b4b4b4" fill-opacity="0.45"/>
<path d="M261.4,98.8L261.4,50.0L262.0,49.9L262.6,49.8L262.6,98.8Z" fill="#b4b4b4" fill-opacity="0.45"/>
<path d="M263.8,98.8L263.8,49.5L264.2,49.5L264.6,49.4L264.6,98.8Z" fill="#b4b4b4" fill-opacity="0.45"/>
<path d="M265.4,98.8L265.4,49.2L265.9,49.1L266.4,49.0L266.4,98.8Z" fill="#b4b4b4" fill-opacity="0.45"/>
<path d="M267.4,98.8L267.4,48.8L267.9,48.7L268.4,48.6L268.4,98.8Z" fill="#b4b4b4" fill-opacity="0.45"/>
<path d="M269.4,98.8L269.4,48.4L269.9,48.3L270.4,48.2L270.4,98.8Z" fill="#b4b4b4" fill-opacity="0.45"/>
<path d="M271.4,98.8L271.4,48.0L272.0,47.9L272.6,47.7L272.6,98.8Z" fill="#b4b4b4" fill-opacity="0.45"/>
<path d="M273.8,98.8L273.8,47.5L274.2,47.4L274.6,47.3L274.6,98.8Z" fill="#b4b4b4" fill-opacity="0.45"/>
<path d="M275.4,98.8L275.4,47.1L276.0,47.0L276.6,46.8L276.6,98.8Z" fill="#b4b4b4" fill-opacity="0.45"/>
<path d="M277.8,98.8L277.8,46.6L278.2,46.5L278.6,46.4L278.6,98.8Z" fill="#b4b4b4" fill-opacity="0.45"/>
<path d="M279.4,98.8L279.4,46.2L280.0,46.0L280.6,45.9L280.6,98.8Z" fill="#b4b4b4" fill-opacity="0.45"/>
<path d="M281.8,98.8L281.8,45.6L282.3,45.4L282.8,45.3L282.8,98.8Z" fill="#b4b4b4" fill-opacity="0.45"/>
<path d="M283.8,98.8L283.8,45.1L284.3,45.0L284.8,44.9L284.8,98.8Z" fill="#b4b4b4" fill-opacity="0.45"/>
<path d="M285.8,98.8L285.8,44.7L286.2,44.6L286.6,44.5L286.6,98.8Z" fill="#b4b4b4" fill-opacity="0.45"/>
<path d="M287.4,98.8L287.4,44.3L288.0,44.2L288.6,44.1L288.6,98.8Z" fill="#b4b4b4" fill-opacity="0.45"/>
<path d="M289.8,98.8L289.8,43.8L290.2,43.7L290.6,43.6L290.6,98.8Z" fill="#b4b4b4" fill-opacity="0.45"/>
<path d="M291.4,98.8L291.4,43.4L291.9,43.2L292.4,43.1L292.4,98.8Z" fill="#b4b4b4" fill-opacity="0.45"/>
<path d="M293.4,98.8L293.4,42.7L294.0,42.6L294.6,42.4L294.6,98.8Z" fill="#b4b4b4" fill-opacity="0.45"/>
<path d="M295.8,98.8L295.8,42.0L296.3,41.8L296.8,41.7L296.8,98.8Z" fill="#b4b4b4" fill-opacity="0.45"/>
<path d="M297.8,98.8L297.8,41.2L298.3,41.0L298.8,40.8L298.8,98.8Z" fill="#b4b4b4" fill-opacity="0.45"/>
<path d="M299.8,98.8L299.8,40.3L300.4,40.1L301.0,39.9L301.0,98.8Z" fill="#b4b4b4" fill-opacity="0.45"/>
<path d="M302.2,98.8L302.2,39.6L302.6,39.5L303.0,39.4L303.0,98.8Z" fill="#b4b4b4" fill-opacity="0.45"/>
<path d="M303.8,98.8L303.8,39.2L304.4,39.0L305.0,38.9L305.0,98.8Z" fill="#b4b4b4" fill-opacity="0.45"/>
<path d="M306.2,98.8L306.2,38.6L306.7,38.5L307.2,38.4L307.2,98.8Z" fill="#b4b4b4" fill-opacity="0.45"/>
<path d="M308.2,98.8L308.2,38.2L308.7,38.1L309.2,38.0L309.2,98.8Z" fill="#b4b4b4" fill-opacity="0.45"/>
<path d="M310.2,98.8L310.2,37.8L310.6,37.6L311.0,37.3L311.0,98.8Z" fill="#b4b4b4" fill-opacity="0.45"/>
<path d="M311.8,98.8L311.8,36.9L312.4,36.5L313.0,36.2L313.0,98.8Z" fill="#b4b4b4" fill-opacity="0.45"/>
<path d="M314.2,98.8L314.2,34.9L314.7,34.4L315.2,33.5L315.2,98.8Z" fill="#b4b4b4" fill-opacity="0.45"/>
<path d="M316.2,98.8L316.2,31.0L316.6,27.6L317.0,25.0L317.0,98.8Z" fill="#b4b4b4" fill-opacity="0.45"/>
<path d="M184.6,98.8L184.6,71.0L185.2,67.5L185.8,66.4L185.8,98.8Z" fill="#a8a8a8" fill-opacity="0.95"/>
<path d="M204.6,98.8L204.6,58.7L205.3,58.6L206.1,58.5L206.8,58.4L207.6,58.3L208.3,58.1L209.1,58.0L209.8,57.9L209.8,98.8Z" fill="#a8a8a8" fill-opacity="0.95"/>
<path d="M225.0,98.8L225.0,56.0L225.8,55.9L226.5,55.8L227.3,55.7L228.1,55.6L228.8,55.5L229.6,55.4L229.6,98.8Z" fill="#a8a8a8" fill-opacity="0.95"/>
<path d="M244.4,98.8L244.4,52.7L245.2,52.6L246.0,52.5L246.8,52.4L247.5,52.3L248.3,52.1L249.1,52.0L249.1,98.8Z" fill="#a8a8a8" fill-opacity="0.95"/>
<path d="M264.3,98.8L264.3,49.4L265.0,49.3L265.7,49.2L266.4,49.0L267.1,48.9L267.8,48.7L268.5,48.6L269.2,48.5L269.2,98.8Z" fill="#a8a8a8" fill-opacity="0.95"/>
<path d="M282.3,98.8L282.3,45.4L283.0,45.3L283.8,45.1L284.5,45.0L285.3,44.8L286.0,44.6L286.0,98.8Z" fill="#a8a8a8" fill-opacity="0.95"/>
<path d="M294.6,98.8L294.6,42.4L295.3,42.1L296.0,41.9L296.7,41.7L297.4,41.4L298.1,41.1L298.8,40.8L298.8,98.8Z" fill="#a8a8a8" fill-opacity="0.95"/>
<path d="M306.4,98.8L306.4,38.6L307.1,38.5L307.8,38.3L308.5,38.2L309.2,38.0L309.2,98.8Z" fill="#a8a8a8" fill-opacity="0.95"/>
<path d="M278.5,46.4L282.0,45.5L290.4,43.7L297.0,41.6L300.8,39.9L304.5,39.0L310.2,37.8L313.0,36.2L314.9,34.2L316.2,31.0L316.9,25.0L317.7,25.0L317.7,46.4Z" fill="#fff" fill-opacity="0.28"/>
<path d="M318.3,98.8L318.3,81.8L320.3,81.8L320.4,77.6L323.0,77.6L323.1,73.9L326.0,73.3L328.0,71.0L333.0,68.2L338.0,66.6L344.0,65.4L350.0,64.4L355.0,63.5L362.9,60.9L372.0,58.6L381.7,56.0L391.0,53.6L400.6,51.2L406.0,50.5L408.6,50.0L409.8,48.0L411.0,44.8L413.3,43.4L413.6,40.0L415.3,40.0L415.3,98.8Z" fill="#5a5a5a"/>
<path d="M318.3,98.8L318.3,81.8L319.1,81.8L319.9,81.8L320.7,77.6L321.5,77.6L322.3,77.6L323.1,75.3L323.9,73.7L324.6,73.6L325.4,73.4L326.2,73.0L327.0,72.1L327.8,71.2L328.6,70.7L329.4,70.2L330.2,69.8L331.0,69.3L331.0,98.8Z" fill="#787878" fill-opacity="1.0"/>
<path d="M331.0,98.8L331.0,69.3L331.7,68.9L332.4,68.5L333.1,68.2L333.8,67.9L334.5,67.7L335.2,67.5L335.9,67.3L336.6,67.0L336.6,98.8Z" fill="#474747" fill-opacity="1.0"/>
<path d="M336.6,98.8L336.6,67.0L337.3,66.8L338.0,66.6L338.7,66.5L339.5,66.3L340.2,66.2L340.9,66.0L341.6,65.9L342.3,65.7L342.3,98.8Z" fill="#686868" fill-opacity="1.0"/>
<path d="M342.3,98.8L342.3,65.7L343.0,65.6L343.8,65.4L344.5,65.3L345.3,65.2L346.0,65.1L346.7,64.9L347.5,64.8L348.2,64.7L349.0,64.6L349.7,64.5L349.7,98.8Z" fill="#585858" fill-opacity="1.0"/>
<path d="M349.7,98.8L349.7,64.5L350.5,64.3L351.3,64.2L352.0,64.0L352.8,63.9L353.6,63.7L354.4,63.6L354.4,98.8Z" fill="#444444" fill-opacity="1.0"/>
<path d="M354.4,98.8L354.4,63.6L355.2,63.4L355.9,63.2L356.7,62.9L357.5,62.7L358.3,62.4L359.0,62.2L359.8,61.9L360.6,61.7L361.4,61.4L362.1,61.2L362.9,60.9L362.9,98.8Z" fill="#686868" fill-opacity="1.0"/>
<path d="M362.9,98.8L362.9,60.9L363.7,60.7L364.5,60.5L365.2,60.3L366.0,60.1L366.8,59.9L367.6,59.7L367.6,98.8Z" fill="#787878" fill-opacity="1.0"/>
<path d="M367.6,98.8L367.6,59.7L368.4,59.5L369.2,59.3L370.0,59.1L370.7,58.9L371.5,58.7L372.3,58.5L372.3,98.8Z" fill="#444444" fill-opacity="1.0"/>
<path d="M372.3,98.8L372.3,58.5L373.1,58.3L373.9,58.1L374.7,57.9L375.5,57.7L376.3,57.5L377.1,57.2L377.9,57.0L378.7,56.8L379.5,56.6L380.2,56.4L381.0,56.2L381.8,56.0L382.6,55.8L383.4,55.6L384.2,55.3L385.0,55.1L385.8,54.9L386.6,54.7L387.4,54.5L387.4,98.8Z" fill="#5c5c5c" fill-opacity="1.0"/>
<path d="M387.4,98.8L387.4,54.5L388.2,54.3L389.0,54.1L389.8,53.9L390.5,53.7L391.3,53.5L392.1,53.3L392.1,98.8Z" fill="#444444" fill-opacity="1.0"/>
<path d="M392.1,98.8L392.1,53.3L392.9,53.1L393.7,52.9L394.4,52.7L395.2,52.5L396.0,52.4L396.8,52.2L397.5,52.0L398.3,51.8L399.1,51.6L399.9,51.4L400.6,51.2L401.4,51.1L402.2,51.0L403.0,50.9L403.7,50.8L404.5,50.7L405.3,50.6L405.3,98.8Z" fill="#6c6c6c" fill-opacity="1.0"/>
<path d="M405.3,98.8L405.3,50.6L406.1,50.5L406.8,50.3L407.6,50.2L408.4,50.0L409.1,49.1L409.9,47.7L410.7,45.6L411.5,44.5L412.2,44.1L413.0,43.6L413.8,40.0L414.5,40.0L415.3,40.0L415.3,98.8Z" fill="#424242" fill-opacity="1.0"/>
<path d="M318.3,98.8L318.3,81.8L318.9,81.8L319.5,81.8L319.5,98.8Z" fill="#3a3a3a" fill-opacity="0.22"/>
<path d="M320.9,98.8L320.9,77.6L321.4,77.6L321.9,77.6L321.9,98.8Z" fill="#3a3a3a" fill-opacity="0.22"/>
<path d="M323.1,98.8L323.1,73.9L323.7,73.8L324.3,73.7L324.3,98.8Z" fill="#3a3a3a" fill-opacity="0.22"/>
<path d="M325.7,98.8L325.7,73.4L326.2,73.1L326.7,72.5L326.7,98.8Z" fill="#3a3a3a" fill-opacity="0.22"/>
<path d="M327.9,98.8L327.9,71.1L328.5,70.7L329.1,70.4L329.1,98.8Z" fill="#3a3a3a" fill-opacity="0.22"/>
<path d="M330.5,98.8L330.5,69.6L331.1,69.3L331.7,68.9L331.7,98.8Z" fill="#3a3a3a" fill-opacity="0.22"/>
<path d="M333.1,98.8L333.1,68.2L333.7,68.0L334.3,67.8L334.3,98.8Z" fill="#3a3a3a" fill-opacity="0.22"/>
<path d="M335.7,98.8L335.7,67.3L336.3,67.1L336.9,67.0L336.9,98.8Z" fill="#3a3a3a" fill-opacity="0.22"/>
<path d="M338.3,98.8L338.3,66.5L338.7,66.5L339.1,66.4L339.1,98.8Z" fill="#3a3a3a" fill-opacity="0.22"/>
<path d="M340.1,98.8L340.1,66.2L340.6,66.1L341.1,66.0L341.1,98.8Z" fill="#3a3a3a" fill-opacity="0.22"/>
<path d="M342.3,98.8L342.3,65.7L342.7,65.7L343.1,65.6L343.1,98.8Z" fill="#3a3a3a" fill-opacity="0.22"/>
<path d="M344.1,98.8L344.1,65.4L344.7,65.3L345.3,65.2L345.3,98.8Z" fill="#3a3a3a" fill-opacity="0.22"/>
<path d="M346.7,98.8L346.7,64.9L347.1,64.9L347.5,64.8L347.5,98.8Z" fill="#3a3a3a" fill-opacity="0.22"/>
<path d="M348.5,98.8L348.5,64.6L348.9,64.6L349.3,64.5L349.3,98.8Z" fill="#3a3a3a" fill-opacity="0.22"/>
<path d="M350.3,98.8L350.3,64.3L350.7,64.3L351.1,64.2L351.1,98.8Z" fill="#3a3a3a" fill-opacity="0.22"/>
<path d="M352.1,98.8L352.1,64.0L352.6,63.9L353.1,63.8L353.1,98.8Z" fill="#3a3a3a" fill-opacity="0.22"/>
<path d="M354.3,98.8L354.3,63.6L354.8,63.5L355.3,63.4L355.3,98.8Z" fill="#3a3a3a" fill-opacity="0.22"/>
<path d="M356.5,98.8L356.5,63.0L356.9,62.9L357.3,62.7L357.3,98.8Z" fill="#3a3a3a" fill-opacity="0.22"/>
<path d="M358.3,98.8L358.3,62.4L358.8,62.3L359.3,62.1L359.3,98.8Z" fill="#3a3a3a" fill-opacity="0.22"/>
<path d="M360.5,98.8L360.5,61.7L361.1,61.5L361.7,61.3L361.7,98.8Z" fill="#3a3a3a" fill-opacity="0.22"/>
<path d="M363.1,98.8L363.1,60.8L363.5,60.7L363.9,60.6L363.9,98.8Z" fill="#3a3a3a" fill-opacity="0.22"/>
<path d="M364.9,98.8L364.9,60.4L365.5,60.2L366.1,60.1L366.1,98.8Z" fill="#3a3a3a" fill-opacity="0.22"/>
<path d="M367.5,98.8L367.5,59.7L367.9,59.6L368.3,59.5L368.3,98.8Z" fill="#3a3a3a" fill-opacity="0.22"/>
<path d="M369.3,98.8L369.3,59.3L369.7,59.2L370.1,59.1L370.1,98.8Z" fill="#3a3a3a" fill-opacity="0.22"/>
<path d="M371.1,98.8L371.1,58.8L371.7,58.7L372.3,58.5L372.3,98.8Z" fill="#3a3a3a" fill-opacity="0.22"/>
<path d="M373.7,98.8L373.7,58.1L374.1,58.0L374.5,57.9L374.5,98.8Z" fill="#3a3a3a" fill-opacity="0.22"/>
<path d="M375.5,98.8L375.5,57.7L376.0,57.5L376.5,57.4L376.5,98.8Z" fill="#3a3a3a" fill-opacity="0.22"/>
<path d="M377.7,98.8L377.7,57.1L378.2,56.9L378.7,56.8L378.7,98.8Z" fill="#3a3a3a" fill-opacity="0.22"/>
<path d="M379.9,98.8L379.9,56.5L380.3,56.4L380.7,56.3L380.7,98.8Z" fill="#3a3a3a" fill-opacity="0.22"/>
<path d="M381.7,98.8L381.7,56.0L382.2,55.9L382.7,55.7L382.7,98.8Z" fill="#3a3a3a" fill-opacity="0.22"/>
<path d="M383.9,98.8L383.9,55.4L384.3,55.3L384.7,55.2L384.7,98.8Z" fill="#3a3a3a" fill-opacity="0.22"/>
<path d="M385.7,98.8L385.7,55.0L386.1,54.9L386.5,54.8L386.5,98.8Z" fill="#3a3a3a" fill-opacity="0.22"/>
<path d="M387.5,98.8L387.5,54.5L387.9,54.4L388.3,54.3L388.3,98.8Z" fill="#3a3a3a" fill-opacity="0.22"/>
<path d="M389.3,98.8L389.3,54.0L389.9,53.9L390.5,53.7L390.5,98.8Z" fill="#3a3a3a" fill-opacity="0.22"/>
<path d="M391.9,98.8L391.9,53.4L392.5,53.2L393.1,53.1L393.1,98.8Z" fill="#3a3a3a" fill-opacity="0.22"/>
<path d="M394.5,98.8L394.5,52.7L395.0,52.6L395.5,52.5L395.5,98.8Z" fill="#3a3a3a" fill-opacity="0.22"/>
<path d="M396.7,98.8L396.7,52.2L397.1,52.1L397.5,52.0L397.5,98.8Z" fill="#3a3a3a" fill-opacity="0.22"/>
<path d="M398.5,98.8L398.5,51.7L398.9,51.6L399.3,51.5L399.3,98.8Z" fill="#3a3a3a" fill-opacity="0.22"/>
<path d="M400.3,98.8L400.3,51.3L400.7,51.2L401.1,51.1L401.1,98.8Z" fill="#3a3a3a" fill-opacity="0.22"/>
<path d="M402.1,98.8L402.1,51.0L402.5,51.0L402.9,50.9L402.9,98.8Z" fill="#3a3a3a" fill-opacity="0.22"/>
<path d="M403.9,98.8L403.9,50.8L404.3,50.7L404.7,50.7L404.7,98.8Z" fill="#3a3a3a" fill-opacity="0.22"/>
<path d="M405.7,98.8L405.7,50.5L406.1,50.5L406.5,50.4L406.5,98.8Z" fill="#3a3a3a" fill-opacity="0.22"/>
<path d="M407.5,98.8L407.5,50.2L407.9,50.1L408.3,50.1L408.3,98.8Z" fill="#3a3a3a" fill-opacity="0.22"/>
<path d="M409.3,98.8L409.3,48.8L409.7,48.2L410.1,47.2L410.1,98.8Z" fill="#3a3a3a" fill-opacity="0.22"/>
<path d="M411.1,98.8L411.1,44.7L411.6,44.4L412.1,44.1L412.1,98.8Z" fill="#3a3a3a" fill-opacity="0.22"/>
<path d="M413.3,98.8L413.3,43.4L413.8,40.0L414.3,40.0L414.3,98.8Z" fill="#3a3a3a" fill-opacity="0.22"/>
<path d="M184.2,46.4H419.6" stroke="#222" stroke-width="0.8" stroke-dasharray="1.1,1.08"/>
<path d="M184.2,10.6V98.8H419.6" fill="none" stroke="#6a6a6a" stroke-width="1.0"/>
<path d="M182.30,11.30H184.2" stroke="#6a6a6a" stroke-width="0.8"/>
<text x="181.80" y="13.09" font-size="5.0" font-weight="bold" text-anchor="end" fill="#111" stroke="#111" stroke-width="0.15">100</text>
<path d="M182.30,28.85H184.2" stroke="#6a6a6a" stroke-width="0.8"/>
<text x="181.80" y="30.64" font-size="5.0" font-weight="bold" text-anchor="end" fill="#111" stroke="#111" stroke-width="0.15">10</text>
<path d="M182.30,46.40H184.2" stroke="#6a6a6a" stroke-width="0.8"/>
<text x="181.80" y="48.19" font-size="5.0" font-weight="bold" text-anchor="end" fill="#111" stroke="#111" stroke-width="0.15">1</text>
<path d="M182.30,63.95H184.2" stroke="#6a6a6a" stroke-width="0.8"/>
<text x="181.80" y="65.74" font-size="5.0" font-weight="bold" text-anchor="end" fill="#111" stroke="#111" stroke-width="0.15">0.1</text>
<path d="M182.30,81.50H184.2" stroke="#6a6a6a" stroke-width="0.8"/>
<text x="181.80" y="83.29" font-size="5.0" font-weight="bold" text-anchor="end" fill="#111" stroke="#111" stroke-width="0.15">0.01</text>
<path d="M182.30,99.05H184.2" stroke="#6a6a6a" stroke-width="0.8"/>
<text x="181.80" y="100.84" font-size="5.0" font-weight="bold" text-anchor="end" fill="#111" stroke="#111" stroke-width="0.15">0.001</text>
<text x="162.40" y="55.81" font-size="5.05" font-weight="bold" text-anchor="middle" fill="#111" stroke="#111" stroke-width="0.1" transform="rotate(-90 162.40 54.00)">xfold <tspan font-style="italic">SERPINA1</tspan> expression</text>
<text x="167.00" y="55.75" font-size="4.9" font-weight="bold" text-anchor="middle" fill="#111" stroke="#111" stroke-width="0.1" transform="rotate(-90 167.00 54.00)">(tumor vs. non-tumor tissue)</text>
<rect x="187.4" y="11.1" width="5.5" height="3.3" fill="#adadad"/>
<text x="196.30" y="14.54" font-size="5.0" font-weight="bold" fill="#111" stroke="#111" stroke-width="0.24">Adenocarcinoma</text>
<rect x="187.4" y="16.8" width="5.5" height="3.3" fill="#111"/>
<text x="196.30" y="20.24" font-size="5.0" font-weight="bold" fill="#111" stroke="#111" stroke-width="0.24">Squamous Cell carcinoma</text>
<text x="186.90" y="26.52" font-size="4.8" fill="#222" stroke="#222" stroke-width="0.2">n = 351</text>
<text x="248.00" y="41.40" font-size="5.6" font-weight="bold" text-anchor="middle" fill="#111" stroke="#111" stroke-width="0.24"><tspan font-weight="normal" stroke-width="0.16">∅</tspan> = 0.55</text>
<text x="366.90" y="41.90" font-size="5.6" font-weight="bold" text-anchor="middle" fill="#111" stroke="#111" stroke-width="0.24"><tspan font-weight="normal" stroke-width="0.16">∅</tspan> = 0.18</text>
</g>
<g id="panelC">
<text x="30.80" y="133.87" font-size="9.7" fill="#111" stroke="#111" stroke-width="0.2">C</text>
<text x="109.80" y="133.04" font-size="5.7" font-weight="bold" text-anchor="middle" fill="#111" stroke="#111" stroke-width="0.24">all patients</text>
<text x="109.80" y="144.45" font-size="5.45" font-weight="bold" text-anchor="middle" fill="#111" stroke="#111" stroke-width="0.24">tumor tissue</text>
<path d="M61.00,142.30H61.93V143.03H64.16V143.79H65.60V144.00H68.44V145.24H69.10V146.80L72.00,151.80L76.20,158.60L77.60,160.50H79.71V161.08H81.20V161.20H82.22V161.57H84.70V164.00H85.69V164.49H86.26V164.56H87.31V164.97H90.40V166.80H92.21V167.12H93.62V168.60H94.60V169.70H96.10V169.84H98.38V169.99H99.08V170.22H100.30V171.00H104.14V171.62H104.31V171.93H104.94V172.33H105.90V172.50H106.56V173.27H109.60V174.50H111.69V174.74H112.89V176.31H114.20V176.80H115.42V176.99H117.30V178.40L118.80,182.20H120.58V182.60H121.90V182.70L123.10,185.00L159.00,185.00" fill="none" stroke="#8a8a8a" stroke-width="1.2" stroke-linejoin="round"/>
<path d="M125.0,184.2v1.5M127.3,184.2v1.5M129.6,184.2v1.5M131.9,184.2v1.5M134.2,184.2v1.5M136.5,184.2v1.5M138.8,184.2v1.5M141.1,184.2v1.5M143.4,184.2v1.5M145.7,184.2v1.5M148.0,184.2v1.5M150.3,184.2v1.5M152.6,184.2v1.5M154.9,184.2v1.5M157.2,184.2v1.5" stroke="#8a8a8a" stroke-width="0.5"/>
<path d="M61.00,142.30H62.50V142.90H64.83V143.57H65.60V144.20H67.50V145.30L69.10,147.00L72.00,152.00L74.20,155.80L76.20,159.00L79.00,163.30L81.90,166.80H82.70V167.23H85.40V169.00H87.23V170.07H89.21V171.37H90.40V171.80H91.69V172.73H93.20V173.80H95.43V174.80H96.00V176.00H96.87V176.73H98.11V177.84H98.86V178.73H101.70V179.60H102.98V181.50H104.50V181.80H105.74V182.43H107.30V183.80L108.00,185.00H111.05V185.48H111.60V185.60H111.99V185.95H114.20V186.00H117.06V186.89H117.23V187.10H118.00V187.60H119.50V187.77H120.54V188.58H121.90V189.10L128.00,189.10H130.05V189.23H130.50V189.80H132.34V190.00H133.40V190.20L136.40,190.20L137.50,193.70L138.40,197.50L157.90,197.50" fill="none" stroke="#111" stroke-width="1.25" stroke-linejoin="round"/>
<path d="M109.5,184.4v1.8M112.5,184.8v1.8M116.0,185.2v1.8M123.5,188.2v1.8M126.0,188.2v1.8M128.0,188.2v1.8M131.5,189.1v1.8M134.5,189.3v1.8M136.0,189.3v1.8M140.5,196.6v1.8M142.9,196.6v1.8M145.3,196.6v1.8M147.7,196.6v1.8M150.1,196.6v1.8M152.5,196.6v1.8M154.9,196.6v1.8M157.3,196.6v1.8" stroke="#111" stroke-width="0.8"/>
<rect x="55.3" y="136.6" width="112.20" height="105.40" fill="none" stroke="#404040" stroke-width="0.9"/>
<path d="M52.30,141.90H55.3" stroke="#3a3a3a" stroke-width="0.75"/>
<text x="50.70" y="143.94" font-size="5.7" font-weight="bold" text-anchor="end" fill="#111" stroke="#111" stroke-width="0.24">1,0</text>
<path d="M52.30,160.96H55.3" stroke="#3a3a3a" stroke-width="0.75"/>
<text x="50.70" y="163.00" font-size="5.7" font-weight="bold" text-anchor="end" fill="#111" stroke="#111" stroke-width="0.24">0,8</text>
<path d="M52.30,180.02H55.3" stroke="#3a3a3a" stroke-width="0.75"/>
<text x="50.70" y="182.06" font-size="5.7" font-weight="bold" text-anchor="end" fill="#111" stroke="#111" stroke-width="0.24">0,6</text>
<path d="M52.30,199.08H55.3" stroke="#3a3a3a" stroke-width="0.75"/>
<text x="50.70" y="201.12" font-size="5.7" font-weight="bold" text-anchor="end" fill="#111" stroke="#111" stroke-width="0.24">0,4</text>
<path d="M52.30,218.14H55.3" stroke="#3a3a3a" stroke-width="0.75"/>
<text x="50.70" y="220.18" font-size="5.7" font-weight="bold" text-anchor="end" fill="#111" stroke="#111" stroke-width="0.24">0,2</text>
<path d="M52.30,237.20H55.3" stroke="#3a3a3a" stroke-width="0.75"/>
<text x="50.70" y="239.24" font-size="5.7" font-weight="bold" text-anchor="end" fill="#111" stroke="#111" stroke-width="0.24">0,0</text>
<path d="M60.75,242.0v2.3" stroke="#3a3a3a" stroke-width="0.75"/>
<text x="60.75" y="252.34" font-size="5.7" font-weight="bold" text-anchor="middle" fill="#111" stroke="#111" stroke-width="0.24">0</text>
<path d="M77.61,242.0v2.3" stroke="#3a3a3a" stroke-width="0.75"/>
<text x="77.61" y="252.34" font-size="5.7" font-weight="bold" text-anchor="middle" fill="#111" stroke="#111" stroke-width="0.24">20</text>
<path d="M94.47,242.0v2.3" stroke="#3a3a3a" stroke-width="0.75"/>
<text x="94.47" y="252.34" font-size="5.7" font-weight="bold" text-anchor="middle" fill="#111" stroke="#111" stroke-width="0.24">40</text>
<path d="M111.33,242.0v2.3" stroke="#3a3a3a" stroke-width="0.75"/>
<text x="111.33" y="252.34" font-size="5.7" font-weight="bold" text-anchor="middle" fill="#111" stroke="#111" stroke-width="0.24">60</text>
<path d="M128.19,242.0v2.3" stroke="#3a3a3a" stroke-width="0.75"/>
<text x="128.19" y="252.34" font-size="5.7" font-weight="bold" text-anchor="middle" fill="#111" stroke="#111" stroke-width="0.24">80</text>
<path d="M145.05,242.0v2.3" stroke="#3a3a3a" stroke-width="0.75"/>
<text x="145.05" y="252.34" font-size="5.7" font-weight="bold" text-anchor="middle" fill="#111" stroke="#111" stroke-width="0.24">100</text>
<path d="M161.91,242.0v2.3" stroke="#3a3a3a" stroke-width="0.75"/>
<text x="161.91" y="252.34" font-size="5.7" font-weight="bold" text-anchor="middle" fill="#111" stroke="#111" stroke-width="0.24">120</text>
<text x="108.80" y="261.54" font-size="5.7" font-weight="bold" text-anchor="middle" fill="#111" stroke="#111" stroke-width="0.24">months</text>
<text x="36.10" y="190.99" font-size="5.55" font-weight="bold" text-anchor="middle" fill="#111" stroke="#111" stroke-width="0.24" transform="rotate(-90 36.10 189.00)">Overall survival</text>
<text x="92.60" y="159.40" font-size="4.75" font-weight="bold" fill="#111" stroke="#111" stroke-width="0.24">n = 195</text>
<text x="92.60" y="200.30" font-size="4.75" font-weight="bold" fill="#111" stroke="#111" stroke-width="0.24">n = 155</text>
<text x="57.70" y="239.46" font-size="5.2" font-weight="bold" fill="#111" stroke="#111" stroke-width="0.24">n = 351</text>
<text x="164.40" y="239.33" font-size="5.4" font-weight="bold" text-anchor="end" fill="#111" stroke="#111" stroke-width="0.24"><tspan font-style="italic">p</tspan> = 0.131</text>
<text x="170.80" y="133.94" font-size="5.7" font-style="italic" fill="#2a2a2a" stroke="#2a2a2a" stroke-width="0.1">SERPINA1</text>
<text x="178.10" y="140.36" font-size="4.65" font-weight="bold" fill="#111" stroke="#111" stroke-width="0.24">low</text>
<text x="178.10" y="145.06" font-size="4.65" font-weight="bold" fill="#111" stroke="#111" stroke-width="0.24">expression</text>
<text x="178.10" y="149.76" font-size="4.65" fill="#8c8c8c" stroke="#8c8c8c" stroke-width="0.18">high</text>
<text x="178.10" y="155.66" font-size="4.65" fill="#9c9c9c" stroke="#9c9c9c" stroke-width="0.18">expression</text>
<text x="178.10" y="160.96" font-size="4.65" font-weight="bold" fill="#111" stroke="#111" stroke-width="0.24">censored</text>
<text x="178.10" y="166.06" font-size="4.65" fill="#a8a8a8" stroke="#a8a8a8" stroke-width="0.18">censored</text>
<path d="M170.0,141.7h2.7v-1.8h2.9l1.0,0.4" fill="none" stroke="#858585" stroke-width="0.6"/>
<path d="M170.0,151.9h2.7v-1.8h2.9l1.0,0.4" fill="none" stroke="#c2c2c2" stroke-width="0.6"/>
<path d="M170.1,158.9h5.8M172.9,157.4v3.0" fill="none" stroke="#8f8f8f" stroke-width="0.6"/>
<path d="M170.1,164.0h5.8M172.9,162.5v3.0" fill="none" stroke="#cdcdcd" stroke-width="0.6"/>
</g>
<g id="panelD">
<text x="214.30" y="134.07" font-size="9.7" fill="#111" stroke="#111" stroke-width="0.2">D</text>
<text x="293.15" y="133.04" font-size="5.7" font-weight="bold" text-anchor="middle" fill="#111" stroke="#111" stroke-width="0.24">all patients</text>
<text x="293.15" y="144.45" font-size="5.45" font-weight="bold" text-anchor="middle" fill="#111" stroke="#111" stroke-width="0.24">non-neoplastic tissue</text>
<path d="M244.20,142.20H247.14V143.60H247.76V143.85H248.60V144.20L252.10,147.70L255.70,152.70L257.80,159.00L260.60,164.70L263.50,168.90L266.30,174.60H267.26V175.26H268.63V175.54H270.50V176.70H272.14V177.24H273.73V177.93H274.80V178.10L278.30,182.40H280.18V184.41H281.80V185.20L284.70,188.70H285.70V188.79H288.42V188.79H288.60V188.89H290.30V189.20H292.50V190.20H294.26V190.24H294.28V190.25H296.06V190.25H298.70V190.30L300.30,193.70L302.10,196.00L340.90,196.00" fill="none" stroke="#8a8a8a" stroke-width="1.2" stroke-linejoin="round"/>
<path d="M304.0,195.2v1.5M306.4,195.2v1.5M308.8,195.2v1.5M311.2,195.2v1.5M313.6,195.2v1.5M316.0,195.2v1.5M318.4,195.2v1.5M320.8,195.2v1.5M323.2,195.2v1.5M325.6,195.2v1.5M328.0,195.2v1.5M330.4,195.2v1.5M332.8,195.2v1.5M335.2,195.2v1.5M337.6,195.2v1.5M340.0,195.2v1.5" stroke="#8a8a8a" stroke-width="0.5"/>
<path d="M244.20,142.20H246.00V142.90H247.21V143.48H248.60V144.20L252.10,147.70L255.70,152.00L259.20,156.20L263.50,160.50H264.38V162.73H266.87V162.74H268.40V164.00H270.80V165.37H271.50V165.69H273.40V166.10H275.48V166.57H275.59V166.94H277.76V167.49H279.00V168.90H281.24V169.08H282.49V169.37H283.29V170.22H284.70V170.40H286.24V171.58H287.50V172.90H289.74V173.56H291.10V176.10H292.76V176.52H294.61V177.66H295.70V177.90H297.38V178.03H297.88V178.43H300.30V178.80H300.87V179.73H303.30V181.40H303.89V182.90H306.40V183.40H308.52V183.48H308.55V183.49H309.76V183.50H311.14V183.57H313.92V183.58H315.60V183.70H317.10V185.00L320.20,185.00L321.70,190.40L342.00,190.40" fill="none" stroke="#111" stroke-width="1.25" stroke-linejoin="round"/>
<path d="M293.0,176.1v1.8M297.5,177.4v1.8M301.5,179.1v1.8M308.0,182.6v1.8M310.5,182.6v1.8M313.0,182.6v1.8M315.0,182.6v1.8M318.5,184.1v1.8M323.5,189.5v1.8M325.8,189.5v1.8M328.1,189.5v1.8M330.4,189.5v1.8M332.7,189.5v1.8M335.0,189.5v1.8M337.3,189.5v1.8M339.6,189.5v1.8" stroke="#111" stroke-width="0.8"/>
<rect x="238.5" y="136.6" width="112.50" height="105.40" fill="none" stroke="#404040" stroke-width="0.9"/>
<path d="M351.0,136.20V242.40" stroke="#fff" stroke-width="1.2"/>
<path d="M351.0,136.15V242.45" stroke="#7c7c7c" stroke-width="1.25"/>
<path d="M235.50,141.90H238.5" stroke="#3a3a3a" stroke-width="0.75"/>
<text x="233.90" y="143.94" font-size="5.7" font-weight="bold" text-anchor="end" fill="#111" stroke="#111" stroke-width="0.24">1,0</text>
<path d="M235.50,160.96H238.5" stroke="#3a3a3a" stroke-width="0.75"/>
<text x="233.90" y="163.00" font-size="5.7" font-weight="bold" text-anchor="end" fill="#111" stroke="#111" stroke-width="0.24">0,8</text>
<path d="M235.50,180.02H238.5" stroke="#3a3a3a" stroke-width="0.75"/>
<text x="233.90" y="182.06" font-size="5.7" font-weight="bold" text-anchor="end" fill="#111" stroke="#111" stroke-width="0.24">0,6</text>
<path d="M235.50,199.08H238.5" stroke="#3a3a3a" stroke-width="0.75"/>
<text x="233.90" y="201.12" font-size="5.7" font-weight="bold" text-anchor="end" fill="#111" stroke="#111" stroke-width="0.24">0,4</text>
<path d="M235.50,218.14H238.5" stroke="#3a3a3a" stroke-width="0.75"/>
<text x="233.90" y="220.18" font-size="5.7" font-weight="bold" text-anchor="end" fill="#111" stroke="#111" stroke-width="0.24">0,2</text>
<path d="M235.50,237.20H238.5" stroke="#3a3a3a" stroke-width="0.75"/>
<text x="233.90" y="239.24" font-size="5.7" font-weight="bold" text-anchor="end" fill="#111" stroke="#111" stroke-width="0.24">0,0</text>
<path d="M244.10,242.0v2.3" stroke="#3a3a3a" stroke-width="0.75"/>
<text x="244.10" y="252.34" font-size="5.7" font-weight="bold" text-anchor="middle" fill="#111" stroke="#111" stroke-width="0.24">0</text>
<path d="M260.96,242.0v2.3" stroke="#3a3a3a" stroke-width="0.75"/>
<text x="260.96" y="252.34" font-size="5.7" font-weight="bold" text-anchor="middle" fill="#111" stroke="#111" stroke-width="0.24">20</text>
<path d="M277.82,242.0v2.3" stroke="#3a3a3a" stroke-width="0.75"/>
<text x="277.82" y="252.34" font-size="5.7" font-weight="bold" text-anchor="middle" fill="#111" stroke="#111" stroke-width="0.24">40</text>
<path d="M294.68,242.0v2.3" stroke="#3a3a3a" stroke-width="0.75"/>
<text x="294.68" y="252.34" font-size="5.7" font-weight="bold" text-anchor="middle" fill="#111" stroke="#111" stroke-width="0.24">60</text>
<path d="M311.54,242.0v2.3" stroke="#3a3a3a" stroke-width="0.75"/>
<text x="311.54" y="252.34" font-size="5.7" font-weight="bold" text-anchor="middle" fill="#111" stroke="#111" stroke-width="0.24">80</text>
<path d="M328.40,242.0v2.3" stroke="#3a3a3a" stroke-width="0.75"/>
<text x="328.40" y="252.34" font-size="5.7" font-weight="bold" text-anchor="middle" fill="#111" stroke="#111" stroke-width="0.24">100</text>
<path d="M345.26,242.0v2.3" stroke="#3a3a3a" stroke-width="0.75"/>
<text x="345.26" y="252.34" font-size="5.7" font-weight="bold" text-anchor="middle" fill="#111" stroke="#111" stroke-width="0.24">120</text>
<text x="292.15" y="261.54" font-size="5.7" font-weight="bold" text-anchor="middle" fill="#111" stroke="#111" stroke-width="0.24">months</text>
<text x="219.30" y="190.99" font-size="5.55" font-weight="bold" text-anchor="middle" fill="#111" stroke="#111" stroke-width="0.24" transform="rotate(-90 219.30 189.00)">Overall survival</text>
<text x="272.40" y="158.70" font-size="4.75" font-weight="bold" fill="#111" stroke="#111" stroke-width="0.24">n = 256</text>
<text x="272.40" y="199.90" font-size="4.75" font-weight="bold" fill="#111" stroke="#111" stroke-width="0.24">n = 95</text>
<text x="347.20" y="239.33" font-size="5.4" font-weight="bold" text-anchor="end" fill="#111" stroke="#111" stroke-width="0.24"><tspan font-style="italic">p</tspan> = 0.016</text>
<text x="353.81" y="133.94" font-size="5.7" font-style="italic" fill="#2a2a2a" stroke="#2a2a2a" stroke-width="0.1">SERPINA1</text>
<text x="360.90" y="140.36" font-size="4.65" font-weight="bold" fill="#111" stroke="#111" stroke-width="0.24">low</text>
<text x="360.90" y="145.06" font-size="4.65" font-weight="bold" fill="#111" stroke="#111" stroke-width="0.24">expression</text>
<text x="360.90" y="149.76" font-size="4.65" fill="#8c8c8c" stroke="#8c8c8c" stroke-width="0.18">high</text>
<text x="360.90" y="155.66" font-size="4.65" fill="#9c9c9c" stroke="#9c9c9c" stroke-width="0.18">expression</text>
<text x="360.90" y="160.96" font-size="4.65" font-weight="bold" fill="#111" stroke="#111" stroke-width="0.24">censored</text>
<text x="360.90" y="166.06" font-size="4.65" fill="#a8a8a8" stroke="#a8a8a8" stroke-width="0.18">censored</text>
<path d="M353.5,141.7h2.7v-1.8h2.9l1.0,0.4" fill="none" stroke="#858585" stroke-width="0.6"/>
<path d="M353.5,151.9h2.7v-1.8h2.9l1.0,0.4" fill="none" stroke="#c2c2c2" stroke-width="0.6"/>
<path d="M353.6,158.9h5.8M356.4,157.4v3.0" fill="none" stroke="#8f8f8f" stroke-width="0.6"/>
<path d="M353.6,164.0h5.8M356.4,162.5v3.0" fill="none" stroke="#cdcdcd" stroke-width="0.6"/>
</g>
<g id="panelE">
<text x="33.60" y="277.07" font-size="9.7" fill="#111" stroke="#111" stroke-width="0.2">E</text>
<text x="109.20" y="276.14" font-size="5.7" font-weight="bold" text-anchor="middle" fill="#111" stroke="#111" stroke-width="0.24">all patients</text>
<text x="109.20" y="287.15" font-size="5.45" font-weight="bold" text-anchor="middle" fill="#111" stroke="#111" stroke-width="0.24">tumor tissue</text>
<path d="M60.30,283.90L63.70,289.50L66.70,295.00L68.90,299.40L71.00,301.80L73.10,307.40L75.90,312.40H76.83V313.05H78.60V314.04H80.20V315.20H81.79V317.25H83.52V317.42H84.40V318.00H86.60V319.99H88.05V320.75H89.40V321.60H92.02V321.90H92.47V321.90H92.61V322.18H93.14V322.20H96.40V323.00H98.49V324.43H99.89V324.48H100.02V324.58H102.10V325.10H103.54V325.60H104.84V327.34H105.90V327.73H108.60V328.40H109.42V328.59H110.49V328.66H113.20V329.90L116.30,333.80L119.30,336.80H120.78V337.31H120.79V337.91H123.90V339.10H127.11V339.20H127.36V339.51H127.75V339.78H129.30V339.90L131.30,342.50L158.40,342.50" fill="none" stroke="#8a8a8a" stroke-width="1.2" stroke-linejoin="round"/>
<path d="M133.0,341.8v1.5M135.4,341.8v1.5M137.8,341.8v1.5M140.2,341.8v1.5M142.6,341.8v1.5M145.0,341.8v1.5M147.4,341.8v1.5M149.8,341.8v1.5M152.2,341.8v1.5M154.6,341.8v1.5M157.0,341.8v1.5" stroke="#8a8a8a" stroke-width="0.5"/>
<path d="M60.30,283.90L63.20,289.70L66.00,295.40L68.10,301.00L70.30,308.10L72.40,313.10L75.20,316.60L76.60,319.40H78.25V320.85H78.93V321.09H81.25V321.57H82.30V324.40H84.32V325.22H85.06V325.78H86.44V328.21H87.90V329.30H89.00V330.10H91.38V330.12H91.90V330.54H93.60V330.70H95.78V331.24H96.28V332.22H97.42V332.87H99.30V334.30H100.53V334.81H102.63V336.23H103.14V336.31H104.90V337.30H106.06V337.43H108.34V337.50H110.10V338.40H113.37V339.55H113.69V340.41H114.70V340.70H117.32V341.73H118.23V341.75H119.30V343.00H121.78V344.44H122.40V345.60H125.01V346.07H126.05V346.47H126.55V346.63H127.80V346.80L130.10,350.20H131.35V350.40H132.40V351.00L139.60,351.00L140.80,353.70L145.70,353.70L146.60,357.90L157.40,357.90" fill="none" stroke="#111" stroke-width="1.25" stroke-linejoin="round"/>
<path d="M125.0,345.3v1.8M134.5,350.1v1.8M137.0,350.1v1.8M143.0,352.8v1.8M148.5,357.0v1.8M150.7,357.0v1.8M152.9,357.0v1.8M155.1,357.0v1.8" stroke="#111" stroke-width="0.8"/>
<rect x="54.6" y="278.7" width="112.40" height="105.75" fill="none" stroke="#404040" stroke-width="0.9"/>
<path d="M51.60,283.80H54.6" stroke="#3a3a3a" stroke-width="0.75"/>
<text x="50.00" y="285.84" font-size="5.7" font-weight="bold" text-anchor="end" fill="#111" stroke="#111" stroke-width="0.24">1,0</text>
<path d="M51.60,302.92H54.6" stroke="#3a3a3a" stroke-width="0.75"/>
<text x="50.00" y="304.96" font-size="5.7" font-weight="bold" text-anchor="end" fill="#111" stroke="#111" stroke-width="0.24">0,8</text>
<path d="M51.60,322.04H54.6" stroke="#3a3a3a" stroke-width="0.75"/>
<text x="50.00" y="324.08" font-size="5.7" font-weight="bold" text-anchor="end" fill="#111" stroke="#111" stroke-width="0.24">0,6</text>
<path d="M51.60,341.16H54.6" stroke="#3a3a3a" stroke-width="0.75"/>
<text x="50.00" y="343.20" font-size="5.7" font-weight="bold" text-anchor="end" fill="#111" stroke="#111" stroke-width="0.24">0,4</text>
<path d="M51.60,360.28H54.6" stroke="#3a3a3a" stroke-width="0.75"/>
<text x="50.00" y="362.32" font-size="5.7" font-weight="bold" text-anchor="end" fill="#111" stroke="#111" stroke-width="0.24">0,2</text>
<path d="M51.60,379.40H54.6" stroke="#3a3a3a" stroke-width="0.75"/>
<text x="50.00" y="381.44" font-size="5.7" font-weight="bold" text-anchor="end" fill="#111" stroke="#111" stroke-width="0.24">0,0</text>
<path d="M60.30,384.45v2.3" stroke="#3a3a3a" stroke-width="0.75"/>
<text x="60.30" y="394.79" font-size="5.7" font-weight="bold" text-anchor="middle" fill="#111" stroke="#111" stroke-width="0.24">0</text>
<path d="M77.16,384.45v2.3" stroke="#3a3a3a" stroke-width="0.75"/>
<text x="77.16" y="394.79" font-size="5.7" font-weight="bold" text-anchor="middle" fill="#111" stroke="#111" stroke-width="0.24">20</text>
<path d="M94.02,384.45v2.3" stroke="#3a3a3a" stroke-width="0.75"/>
<text x="94.02" y="394.79" font-size="5.7" font-weight="bold" text-anchor="middle" fill="#111" stroke="#111" stroke-width="0.24">40</text>
<path d="M110.88,384.45v2.3" stroke="#3a3a3a" stroke-width="0.75"/>
<text x="110.88" y="394.79" font-size="5.7" font-weight="bold" text-anchor="middle" fill="#111" stroke="#111" stroke-width="0.24">60</text>
<path d="M127.74,384.45v2.3" stroke="#3a3a3a" stroke-width="0.75"/>
<text x="127.74" y="394.79" font-size="5.7" font-weight="bold" text-anchor="middle" fill="#111" stroke="#111" stroke-width="0.24">80</text>
<path d="M144.60,384.45v2.3" stroke="#3a3a3a" stroke-width="0.75"/>
<text x="144.60" y="394.79" font-size="5.7" font-weight="bold" text-anchor="middle" fill="#111" stroke="#111" stroke-width="0.24">100</text>
<path d="M161.46,384.45v2.3" stroke="#3a3a3a" stroke-width="0.75"/>
<text x="161.46" y="394.79" font-size="5.7" font-weight="bold" text-anchor="middle" fill="#111" stroke="#111" stroke-width="0.24">120</text>
<text x="108.20" y="403.99" font-size="5.7" font-weight="bold" text-anchor="middle" fill="#111" stroke="#111" stroke-width="0.24">months</text>
<text x="35.00" y="335.82" font-size="6.0" font-weight="bold" text-anchor="middle" fill="#111" stroke="#111" stroke-width="0.24" transform="rotate(-90 35.00 333.67)">Disease-free survival</text>
<text x="92.40" y="312.70" font-size="4.75" font-weight="bold" fill="#111" stroke="#111" stroke-width="0.24">n = 195</text>
<text x="92.40" y="353.30" font-size="4.75" font-weight="bold" fill="#111" stroke="#111" stroke-width="0.24">n = 155</text>
<text x="163.90" y="382.03" font-size="5.4" font-weight="bold" text-anchor="end" fill="#111" stroke="#111" stroke-width="0.24"><tspan font-style="italic">p</tspan> = 0.059</text>
<text x="170.02" y="277.04" font-size="5.7" font-style="italic" fill="#2a2a2a" stroke="#2a2a2a" stroke-width="0.1">SERPINA1</text>
<text x="177.20" y="282.46" font-size="4.65" font-weight="bold" fill="#111" stroke="#111" stroke-width="0.24">low</text>
<text x="177.20" y="287.16" font-size="4.65" font-weight="bold" fill="#111" stroke="#111" stroke-width="0.24">expression</text>
<text x="177.20" y="291.86" font-size="4.65" fill="#8c8c8c" stroke="#8c8c8c" stroke-width="0.18">high</text>
<text x="177.20" y="297.76" font-size="4.65" fill="#9c9c9c" stroke="#9c9c9c" stroke-width="0.18">expression</text>
<text x="177.20" y="303.06" font-size="4.65" font-weight="bold" fill="#111" stroke="#111" stroke-width="0.24">censored</text>
<text x="177.20" y="308.16" font-size="4.65" fill="#a8a8a8" stroke="#a8a8a8" stroke-width="0.18">censored</text>
<path d="M169.5,283.8h2.7v-1.8h2.9l1.0,0.4" fill="none" stroke="#858585" stroke-width="0.6"/>
<path d="M169.5,294.0h2.7v-1.8h2.9l1.0,0.4" fill="none" stroke="#c2c2c2" stroke-width="0.6"/>
<path d="M169.6,301.0h5.8M172.4,299.5v3.0" fill="none" stroke="#8f8f8f" stroke-width="0.6"/>
<path d="M169.6,306.1h5.8M172.4,304.6v3.0" fill="none" stroke="#cdcdcd" stroke-width="0.6"/>
</g>
<g id="panelF">
<text x="215.90" y="277.27" font-size="9.7" fill="#111" stroke="#111" stroke-width="0.2">F</text>
<text x="292.82" y="276.29" font-size="5.7" font-weight="bold" text-anchor="middle" fill="#111" stroke="#111" stroke-width="0.24">all patients</text>
<text x="292.82" y="287.85" font-size="5.45" font-weight="bold" text-anchor="middle" fill="#111" stroke="#111" stroke-width="0.24">non-neoplastic tissue</text>
<path d="M243.90,283.90L245.80,291.10L249.30,298.20L252.10,305.30L255.00,315.20L257.10,319.40L259.20,325.10H260.98V325.54H263.13V326.08H264.20V327.20H265.47V328.82H268.35V328.99H269.10V330.00H271.47V330.46H271.59V331.03H272.81V331.22H274.80V332.90H276.48V333.15H278.21V333.54H279.70V334.30L281.80,337.10H282.54V337.27H283.49V338.34H286.10V338.50H288.10V338.58H290.06V338.61H291.95V338.80H292.16V338.80H292.63V338.84H294.60V338.90H297.01V339.16H298.00V339.40L301.00,346.50H305.51V346.56H309.32V346.62H309.50V346.68H309.74V346.73H311.14V346.77H313.30V346.80L314.10,351.40L341.70,351.40" fill="none" stroke="#8a8a8a" stroke-width="1.2" stroke-linejoin="round"/>
<path d="M304.0,345.9v1.5M307.0,345.9v1.5M310.0,345.9v1.5M316.0,350.6v1.5M318.5,350.6v1.5M321.0,350.6v1.5M323.5,350.6v1.5M326.0,350.6v1.5M328.5,350.6v1.5" stroke="#8a8a8a" stroke-width="0.5"/>
<path d="M243.90,283.90L247.90,289.70L251.40,298.20L255.00,306.00L258.50,311.70L263.50,316.60L268.40,321.60H270.29V322.21H271.95V323.19H273.40V323.70H274.69V324.00H276.11V324.52H276.43V324.55H279.00V325.10H279.97V325.93H281.85V327.73H283.25V328.13H284.70V328.60H286.37V329.60H288.00V329.90H289.29V330.72H289.70V331.53H290.29V332.14H294.10V333.00H295.38V334.40H295.86V334.70H295.90V335.06H300.30V336.10H301.24V338.73H303.69V339.47H304.90V339.90H306.22V340.41H308.99V341.35H309.44V342.15H311.00V343.00H312.63V343.50H314.10V345.70H316.26V345.74H318.34V345.91H319.04V345.93H320.48V345.96H321.51V345.96H323.30V346.00L324.00,347.90L329.10,347.90L330.20,351.40L341.70,351.40" fill="none" stroke="#111" stroke-width="1.25" stroke-linejoin="round"/>
<path d="M308.0,340.6v1.8M317.0,344.9v1.8M320.0,345.0v1.8M326.5,347.0v1.8M332.0,350.5v1.8M334.3,350.5v1.8M336.6,350.5v1.8M338.9,350.5v1.8M341.2,350.5v1.8" stroke="#111" stroke-width="0.8"/>
<rect x="238.1" y="278.85" width="112.65" height="105.55" fill="none" stroke="#404040" stroke-width="0.9"/>
<path d="M238.1,278.45V384.80" stroke="#fff" stroke-width="1.2"/>
<path d="M238.1,278.40V384.85" stroke="#767676" stroke-width="1.3"/>
<path d="M237.70,278.85H351.15" stroke="#fff" stroke-width="1.2"/>
<path d="M237.65,278.85H351.20" stroke="#6a6a6a" stroke-width="1.0"/>
<path d="M235.10,283.90H238.1" stroke="#3a3a3a" stroke-width="0.75"/>
<text x="233.50" y="285.94" font-size="5.7" font-weight="bold" text-anchor="end" fill="#111" stroke="#111" stroke-width="0.24">1,0</text>
<path d="M235.10,303.02H238.1" stroke="#3a3a3a" stroke-width="0.75"/>
<text x="233.50" y="305.06" font-size="5.7" font-weight="bold" text-anchor="end" fill="#111" stroke="#111" stroke-width="0.24">0,8</text>
<path d="M235.10,322.14H238.1" stroke="#3a3a3a" stroke-width="0.75"/>
<text x="233.50" y="324.18" font-size="5.7" font-weight="bold" text-anchor="end" fill="#111" stroke="#111" stroke-width="0.24">0,6</text>
<path d="M235.10,341.26H238.1" stroke="#3a3a3a" stroke-width="0.75"/>
<text x="233.50" y="343.30" font-size="5.7" font-weight="bold" text-anchor="end" fill="#111" stroke="#111" stroke-width="0.24">0,4</text>
<path d="M235.10,360.38H238.1" stroke="#3a3a3a" stroke-width="0.75"/>
<text x="233.50" y="362.42" font-size="5.7" font-weight="bold" text-anchor="end" fill="#111" stroke="#111" stroke-width="0.24">0,2</text>
<path d="M235.10,379.50H238.1" stroke="#3a3a3a" stroke-width="0.75"/>
<text x="233.50" y="381.54" font-size="5.7" font-weight="bold" text-anchor="end" fill="#111" stroke="#111" stroke-width="0.24">0,0</text>
<path d="M243.70,384.4v2.3" stroke="#3a3a3a" stroke-width="0.75"/>
<text x="243.70" y="394.74" font-size="5.7" font-weight="bold" text-anchor="middle" fill="#111" stroke="#111" stroke-width="0.24">0</text>
<path d="M260.56,384.4v2.3" stroke="#3a3a3a" stroke-width="0.75"/>
<text x="260.56" y="394.74" font-size="5.7" font-weight="bold" text-anchor="middle" fill="#111" stroke="#111" stroke-width="0.24">20</text>
<path d="M277.42,384.4v2.3" stroke="#3a3a3a" stroke-width="0.75"/>
<text x="277.42" y="394.74" font-size="5.7" font-weight="bold" text-anchor="middle" fill="#111" stroke="#111" stroke-width="0.24">40</text>
<path d="M294.28,384.4v2.3" stroke="#3a3a3a" stroke-width="0.75"/>
<text x="294.28" y="394.74" font-size="5.7" font-weight="bold" text-anchor="middle" fill="#111" stroke="#111" stroke-width="0.24">60</text>
<path d="M311.14,384.4v2.3" stroke="#3a3a3a" stroke-width="0.75"/>
<text x="311.14" y="394.74" font-size="5.7" font-weight="bold" text-anchor="middle" fill="#111" stroke="#111" stroke-width="0.24">80</text>
<path d="M328.00,384.4v2.3" stroke="#3a3a3a" stroke-width="0.75"/>
<text x="328.00" y="394.74" font-size="5.7" font-weight="bold" text-anchor="middle" fill="#111" stroke="#111" stroke-width="0.24">100</text>
<path d="M344.86,384.4v2.3" stroke="#3a3a3a" stroke-width="0.75"/>
<text x="344.86" y="394.74" font-size="5.7" font-weight="bold" text-anchor="middle" fill="#111" stroke="#111" stroke-width="0.24">120</text>
<text x="291.82" y="403.94" font-size="5.7" font-weight="bold" text-anchor="middle" fill="#111" stroke="#111" stroke-width="0.24">months</text>
<text x="218.90" y="335.67" font-size="6.0" font-weight="bold" text-anchor="middle" fill="#111" stroke="#111" stroke-width="0.24" transform="rotate(-90 218.90 333.52)">Disease-free survival</text>
<text x="277.50" y="316.60" font-size="4.75" font-weight="bold" fill="#111" stroke="#111" stroke-width="0.24">n = 256</text>
<text x="277.50" y="357.40" font-size="4.75" font-weight="bold" fill="#111" stroke="#111" stroke-width="0.24">n = 95</text>
<text x="346.05" y="382.23" font-size="5.4" font-weight="bold" text-anchor="end" fill="#111" stroke="#111" stroke-width="0.24"><tspan font-style="italic">p</tspan> = 0.121</text>
<text x="353.56" y="276.49" font-size="5.7" font-style="italic" fill="#2a2a2a" stroke="#2a2a2a" stroke-width="0.1">SERPINA1</text>
<text x="360.65" y="282.61" font-size="4.65" font-weight="bold" fill="#111" stroke="#111" stroke-width="0.24">low</text>
<text x="360.65" y="287.31" font-size="4.65" font-weight="bold" fill="#111" stroke="#111" stroke-width="0.24">expression</text>
<text x="360.65" y="292.01" font-size="4.65" fill="#8c8c8c" stroke="#8c8c8c" stroke-width="0.18">high</text>
<text x="360.65" y="297.91" font-size="4.65" fill="#9c9c9c" stroke="#9c9c9c" stroke-width="0.18">expression</text>
<text x="360.65" y="303.21" font-size="4.65" font-weight="bold" fill="#111" stroke="#111" stroke-width="0.24">censored</text>
<text x="360.65" y="308.31" font-size="4.65" fill="#a8a8a8" stroke="#a8a8a8" stroke-width="0.18">censored</text>
<path d="M353.2,284.0h2.7v-1.8h2.9l1.0,0.4" fill="none" stroke="#858585" stroke-width="0.6"/>
<path d="M353.2,294.2h2.7v-1.8h2.9l1.0,0.4" fill="none" stroke="#c2c2c2" stroke-width="0.6"/>
<path d="M353.3,301.2h5.8M356.1,299.7v3.0" fill="none" stroke="#8f8f8f" stroke-width="0.6"/>
<path d="M353.3,306.3h5.8M356.1,304.8v3.0" fill="none" stroke="#cdcdcd" stroke-width="0.6"/>
</g>
<g id="panelG">
<text x="32.70" y="419.27" font-size="9.7" fill="#111" stroke="#111" stroke-width="0.2">G</text>
<text x="110.80" y="417.64" font-size="5.7" font-weight="bold" text-anchor="middle" fill="#111" stroke="#111" stroke-width="0.24">current smokers</text>
<text x="108.88" y="427.35" font-size="5.45" font-weight="bold" text-anchor="middle" fill="#111" stroke="#111" stroke-width="0.24">tumor tissue</text>
<path d="M60.40,425.80L64.60,425.80L64.60,427.60L68.10,427.60L68.90,430.00H71.00V430.70L72.40,436.40L75.20,439.20L77.30,443.20H78.92V443.25H79.81V443.64H81.60V443.70L83.70,446.30H87.33V446.48H87.95V446.52H88.70V447.00H90.80V448.40L92.90,448.40L95.00,451.20L106.30,451.20L107.10,453.10H108.12V453.18H108.25V453.23H108.84V453.25H113.20V453.30L114.70,456.10L117.00,459.20H118.57V459.77H119.30V460.70L121.60,464.90L146.90,464.90" fill="none" stroke="#8a8a8a" stroke-width="1.2" stroke-linejoin="round"/>
<path d="M123.5,464.1v1.5M125.9,464.1v1.5M128.3,464.1v1.5M130.7,464.1v1.5M133.1,464.1v1.5M135.5,464.1v1.5M137.9,464.1v1.5M140.3,464.1v1.5M142.7,464.1v1.5M145.1,464.1v1.5" stroke="#8a8a8a" stroke-width="0.5"/>
<path d="M60.40,425.80L60.40,429.30L68.10,429.30L68.90,433.60L71.00,440.60L73.10,446.30L75.20,451.20L78.00,456.20L81.60,459.70H82.51V462.16H84.62V462.72H85.80V463.30H86.76V464.23H88.70V465.40L93.60,465.40L95.70,467.50L97.80,472.50L100.70,475.90L136.50,475.90L137.00,486.90L149.70,486.90" fill="none" stroke="#111" stroke-width="1.25" stroke-linejoin="round"/>
<path d="M103.0,475.0v1.8M105.5,475.0v1.8M108.0,475.0v1.8M110.5,475.0v1.8M113.0,475.0v1.8M115.5,475.0v1.8M118.0,475.0v1.8M120.5,475.0v1.8M123.0,475.0v1.8M125.5,475.0v1.8M128.0,475.0v1.8M130.5,475.0v1.8M133.0,475.0v1.8M135.5,475.0v1.8M139.0,486.0v1.8M141.4,486.0v1.8M143.8,486.0v1.8M146.2,486.0v1.8M148.6,486.0v1.8" stroke="#111" stroke-width="0.8"/>
<rect x="54.4" y="420.5" width="112.15" height="105.25" fill="none" stroke="#404040" stroke-width="0.9"/>
<path d="M51.40,425.90H54.4" stroke="#3a3a3a" stroke-width="0.75"/>
<text x="49.80" y="427.94" font-size="5.7" font-weight="bold" text-anchor="end" fill="#111" stroke="#111" stroke-width="0.24">1,0</text>
<path d="M51.40,444.82H54.4" stroke="#3a3a3a" stroke-width="0.75"/>
<text x="49.80" y="446.86" font-size="5.7" font-weight="bold" text-anchor="end" fill="#111" stroke="#111" stroke-width="0.24">0,8</text>
<path d="M51.40,463.74H54.4" stroke="#3a3a3a" stroke-width="0.75"/>
<text x="49.80" y="465.78" font-size="5.7" font-weight="bold" text-anchor="end" fill="#111" stroke="#111" stroke-width="0.24">0,6</text>
<path d="M51.40,482.66H54.4" stroke="#3a3a3a" stroke-width="0.75"/>
<text x="49.80" y="484.70" font-size="5.7" font-weight="bold" text-anchor="end" fill="#111" stroke="#111" stroke-width="0.24">0,4</text>
<path d="M51.40,501.58H54.4" stroke="#3a3a3a" stroke-width="0.75"/>
<text x="49.80" y="503.62" font-size="5.7" font-weight="bold" text-anchor="end" fill="#111" stroke="#111" stroke-width="0.24">0,2</text>
<path d="M51.40,520.50H54.4" stroke="#3a3a3a" stroke-width="0.75"/>
<text x="49.80" y="522.54" font-size="5.7" font-weight="bold" text-anchor="end" fill="#111" stroke="#111" stroke-width="0.24">0,0</text>
<path d="M59.90,525.75v2.3" stroke="#3a3a3a" stroke-width="0.75"/>
<text x="59.90" y="536.09" font-size="5.7" font-weight="bold" text-anchor="middle" fill="#111" stroke="#111" stroke-width="0.24">0</text>
<path d="M76.76,525.75v2.3" stroke="#3a3a3a" stroke-width="0.75"/>
<text x="76.76" y="536.09" font-size="5.7" font-weight="bold" text-anchor="middle" fill="#111" stroke="#111" stroke-width="0.24">20</text>
<path d="M93.62,525.75v2.3" stroke="#3a3a3a" stroke-width="0.75"/>
<text x="93.62" y="536.09" font-size="5.7" font-weight="bold" text-anchor="middle" fill="#111" stroke="#111" stroke-width="0.24">40</text>
<path d="M110.48,525.75v2.3" stroke="#3a3a3a" stroke-width="0.75"/>
<text x="110.48" y="536.09" font-size="5.7" font-weight="bold" text-anchor="middle" fill="#111" stroke="#111" stroke-width="0.24">60</text>
<path d="M127.34,525.75v2.3" stroke="#3a3a3a" stroke-width="0.75"/>
<text x="127.34" y="536.09" font-size="5.7" font-weight="bold" text-anchor="middle" fill="#111" stroke="#111" stroke-width="0.24">80</text>
<path d="M144.20,525.75v2.3" stroke="#3a3a3a" stroke-width="0.75"/>
<text x="144.20" y="536.09" font-size="5.7" font-weight="bold" text-anchor="middle" fill="#111" stroke="#111" stroke-width="0.24">100</text>
<path d="M161.06,525.75v2.3" stroke="#3a3a3a" stroke-width="0.75"/>
<text x="161.06" y="536.09" font-size="5.7" font-weight="bold" text-anchor="middle" fill="#111" stroke="#111" stroke-width="0.24">120</text>
<text x="107.88" y="544.49" font-size="5.7" font-weight="bold" text-anchor="middle" fill="#111" stroke="#111" stroke-width="0.24">months</text>
<text x="35.00" y="474.81" font-size="5.55" font-weight="bold" text-anchor="middle" fill="#111" stroke="#111" stroke-width="0.24" transform="rotate(-90 35.00 472.82)">Overall survival</text>
<text x="95.00" y="444.90" font-size="4.75" font-weight="bold" fill="#111" stroke="#111" stroke-width="0.24">n = 69</text>
<text x="95.00" y="486.60" font-size="4.75" font-weight="bold" fill="#111" stroke="#111" stroke-width="0.24">n = 59</text>
<text x="56.80" y="522.76" font-size="5.2" font-weight="bold" fill="#111" stroke="#111" stroke-width="0.24">n = 128</text>
<text x="163.15" y="522.72" font-size="5.65" font-weight="bold" text-anchor="end" fill="#111" stroke="#111" stroke-width="0.24"><tspan font-style="italic">p</tspan> = 0.020</text>
<text x="169.01" y="417.64" font-size="5.7" font-style="italic" fill="#2a2a2a" stroke="#2a2a2a" stroke-width="0.1">SERPINA1</text>
<text x="175.95" y="424.26" font-size="4.65" font-weight="bold" fill="#111" stroke="#111" stroke-width="0.24">low</text>
<text x="175.95" y="428.86" font-size="4.65" font-weight="bold" fill="#111" stroke="#111" stroke-width="0.24">expression</text>
<text x="175.95" y="433.96" font-size="4.65" fill="#8c8c8c" stroke="#8c8c8c" stroke-width="0.18">high</text>
<text x="175.95" y="439.86" font-size="4.65" fill="#9c9c9c" stroke="#9c9c9c" stroke-width="0.18">expression</text>
<text x="175.95" y="444.86" font-size="4.65" font-weight="bold" fill="#111" stroke="#111" stroke-width="0.24">censored</text>
<text x="175.95" y="450.46" font-size="4.65" fill="#a8a8a8" stroke="#a8a8a8" stroke-width="0.18">censored</text>
<path d="M169.1,425.6h2.7v-1.8h2.9l1.0,0.4" fill="none" stroke="#858585" stroke-width="0.6"/>
<path d="M169.1,436.1h2.7v-1.8h2.9l1.0,0.4" fill="none" stroke="#c2c2c2" stroke-width="0.6"/>
<path d="M169.2,442.8h5.8M171.9,441.3v3.0" fill="none" stroke="#8f8f8f" stroke-width="0.6"/>
<path d="M169.2,448.4h5.8M171.9,446.9v3.0" fill="none" stroke="#cdcdcd" stroke-width="0.6"/>
</g>
<g id="panelH">
<text x="215.50" y="419.47" font-size="9.7" fill="#111" stroke="#111" stroke-width="0.2">H</text>
<text x="292.60" y="417.74" font-size="5.7" font-weight="bold" text-anchor="middle" fill="#111" stroke="#111" stroke-width="0.24">current smokers</text>
<text x="292.70" y="427.35" font-size="5.45" font-weight="bold" text-anchor="middle" fill="#111" stroke="#111" stroke-width="0.24">tumor tissue</text>
<path d="M245.10,425.80L247.20,429.30L250.70,433.60L252.90,439.20L255.70,444.90L257.80,451.20H258.50V452.47H261.30V453.40L264.20,456.20H265.84V457.04H267.74V457.32H268.40V458.30H270.74V459.21H271.90V459.70H275.76V459.78H276.02V459.84H277.53V459.88H278.26V459.90H280.15V459.92H281.80V460.00L284.70,463.30H287.12V463.42H288.20V464.00H290.30V465.80H290.92V466.44H291.71V466.71H294.10V467.90H295.50V468.63H295.91V468.84H298.70V469.10L300.30,473.00L302.60,476.50H303.78V476.80H305.60V477.10L306.40,481.00L320.50,481.00" fill="none" stroke="#8a8a8a" stroke-width="1.2" stroke-linejoin="round"/>
<path d="M308.0,480.2v1.5M310.4,480.2v1.5M312.8,480.2v1.5M315.2,480.2v1.5M317.6,480.2v1.5M320.0,480.2v1.5" stroke="#8a8a8a" stroke-width="0.5"/>
<path d="M245.10,425.80L246.50,430.70L248.60,433.60L250.70,442.80L253.60,448.40L256.40,457.60L258.50,459.70L260.60,467.50H261.33V468.15H263.50V469.20H264.79V469.45H265.08V469.92H268.40V470.30H269.78V471.06H271.90V473.20L274.80,476.00H276.85V476.28H277.57V476.30H279.46V476.53H280.40V476.70L283.30,482.30L301.50,482.30L302.10,486.00L303.80,489.90L334.50,489.90" fill="none" stroke="#111" stroke-width="1.25" stroke-linejoin="round"/>
<path d="M292.0,481.4v1.8M296.0,481.4v1.8M299.0,481.4v1.8M306.0,489.0v1.8M308.6,489.0v1.8M311.2,489.0v1.8M313.8,489.0v1.8M316.4,489.0v1.8M319.0,489.0v1.8M321.6,489.0v1.8M324.2,489.0v1.8M326.8,489.0v1.8M329.4,489.0v1.8M332.0,489.0v1.8" stroke="#111" stroke-width="0.8"/>
<rect x="238.9" y="420.3" width="112.30" height="105.30" fill="none" stroke="#404040" stroke-width="0.9"/>
<path d="M351.2,419.90V526.00" stroke="#fff" stroke-width="1.2"/>
<path d="M351.2,419.85V526.05" stroke="#767676" stroke-width="1.3"/>
<path d="M235.90,426.30H238.9" stroke="#3a3a3a" stroke-width="0.75"/>
<text x="234.30" y="428.34" font-size="5.7" font-weight="bold" text-anchor="end" fill="#111" stroke="#111" stroke-width="0.24">1,0</text>
<path d="M235.90,445.12H238.9" stroke="#3a3a3a" stroke-width="0.75"/>
<text x="234.30" y="447.16" font-size="5.7" font-weight="bold" text-anchor="end" fill="#111" stroke="#111" stroke-width="0.24">0,8</text>
<path d="M235.90,463.94H238.9" stroke="#3a3a3a" stroke-width="0.75"/>
<text x="234.30" y="465.98" font-size="5.7" font-weight="bold" text-anchor="end" fill="#111" stroke="#111" stroke-width="0.24">0,6</text>
<path d="M235.90,482.76H238.9" stroke="#3a3a3a" stroke-width="0.75"/>
<text x="234.30" y="484.80" font-size="5.7" font-weight="bold" text-anchor="end" fill="#111" stroke="#111" stroke-width="0.24">0,4</text>
<path d="M235.90,501.58H238.9" stroke="#3a3a3a" stroke-width="0.75"/>
<text x="234.30" y="503.62" font-size="5.7" font-weight="bold" text-anchor="end" fill="#111" stroke="#111" stroke-width="0.24">0,2</text>
<path d="M235.90,520.40H238.9" stroke="#3a3a3a" stroke-width="0.75"/>
<text x="234.30" y="522.44" font-size="5.7" font-weight="bold" text-anchor="end" fill="#111" stroke="#111" stroke-width="0.24">0,0</text>
<path d="M244.60,525.6v2.3" stroke="#3a3a3a" stroke-width="0.75"/>
<text x="244.60" y="535.94" font-size="5.7" font-weight="bold" text-anchor="middle" fill="#111" stroke="#111" stroke-width="0.24">0</text>
<path d="M261.46,525.6v2.3" stroke="#3a3a3a" stroke-width="0.75"/>
<text x="261.46" y="535.94" font-size="5.7" font-weight="bold" text-anchor="middle" fill="#111" stroke="#111" stroke-width="0.24">20</text>
<path d="M278.32,525.6v2.3" stroke="#3a3a3a" stroke-width="0.75"/>
<text x="278.32" y="535.94" font-size="5.7" font-weight="bold" text-anchor="middle" fill="#111" stroke="#111" stroke-width="0.24">40</text>
<path d="M295.18,525.6v2.3" stroke="#3a3a3a" stroke-width="0.75"/>
<text x="295.18" y="535.94" font-size="5.7" font-weight="bold" text-anchor="middle" fill="#111" stroke="#111" stroke-width="0.24">60</text>
<path d="M312.04,525.6v2.3" stroke="#3a3a3a" stroke-width="0.75"/>
<text x="312.04" y="535.94" font-size="5.7" font-weight="bold" text-anchor="middle" fill="#111" stroke="#111" stroke-width="0.24">80</text>
<path d="M328.90,525.6v2.3" stroke="#3a3a3a" stroke-width="0.75"/>
<text x="328.90" y="535.94" font-size="5.7" font-weight="bold" text-anchor="middle" fill="#111" stroke="#111" stroke-width="0.24">100</text>
<path d="M345.76,525.6v2.3" stroke="#3a3a3a" stroke-width="0.75"/>
<text x="345.76" y="535.94" font-size="5.7" font-weight="bold" text-anchor="middle" fill="#111" stroke="#111" stroke-width="0.24">120</text>
<text x="292.45" y="544.34" font-size="5.7" font-weight="bold" text-anchor="middle" fill="#111" stroke="#111" stroke-width="0.24">months</text>
<text x="220.00" y="474.69" font-size="5.7" font-weight="bold" text-anchor="middle" fill="#111" stroke="#111" stroke-width="0.24" transform="rotate(-90 220.00 472.65)">Disease-free survival</text>
<text x="267.00" y="448.40" font-size="4.75" font-weight="bold" fill="#111" stroke="#111" stroke-width="0.24">n = 69</text>
<text x="267.50" y="487.30" font-size="4.75" font-weight="bold" fill="#111" stroke="#111" stroke-width="0.24">n = 59</text>
<text x="347.20" y="522.22" font-size="5.65" font-weight="bold" text-anchor="end" fill="#111" stroke="#111" stroke-width="0.24"><tspan font-style="italic">p</tspan> = 0.088</text>
<text x="353.87" y="417.64" font-size="5.7" font-style="italic" fill="#2a2a2a" stroke="#2a2a2a" stroke-width="0.1">SERPINA1</text>
<text x="360.90" y="424.36" font-size="4.65" font-weight="bold" fill="#111" stroke="#111" stroke-width="0.24">low</text>
<text x="360.90" y="428.76" font-size="4.65" font-weight="bold" fill="#111" stroke="#111" stroke-width="0.24">expression</text>
<text x="360.90" y="433.86" font-size="4.65" fill="#8c8c8c" stroke="#8c8c8c" stroke-width="0.18">high</text>
<text x="360.90" y="440.06" font-size="4.65" fill="#9c9c9c" stroke="#9c9c9c" stroke-width="0.18">expression</text>
<text x="360.90" y="444.76" font-size="4.65" font-weight="bold" fill="#111" stroke="#111" stroke-width="0.24">censored</text>
<text x="360.90" y="450.36" font-size="4.65" fill="#a8a8a8" stroke="#a8a8a8" stroke-width="0.18">censored</text>
<path d="M353.7,425.7h2.7v-1.8h2.9l1.0,0.4" fill="none" stroke="#858585" stroke-width="0.6"/>
<path d="M353.7,436.0h2.7v-1.8h2.9l1.0,0.4" fill="none" stroke="#c2c2c2" stroke-width="0.6"/>
<path d="M353.8,442.7h5.8M356.6,441.2v3.0" fill="none" stroke="#8f8f8f" stroke-width="0.6"/>
<path d="M353.8,448.3h5.8M356.6,446.8v3.0" fill="none" stroke="#cdcdcd" stroke-width="0.6"/>
</g>
</svg>
</body>
</html>
